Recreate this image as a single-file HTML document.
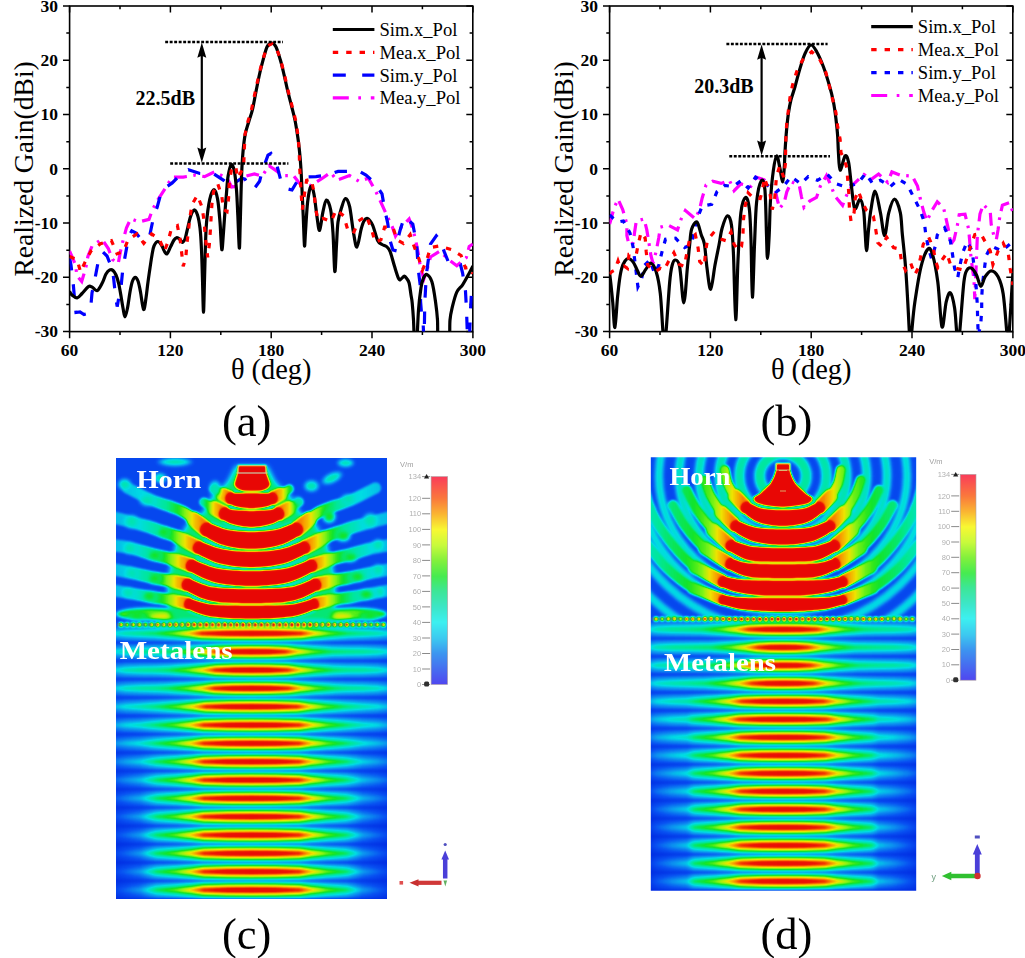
<!DOCTYPE html>
<html><head><meta charset="utf-8"><style>
html,body{margin:0;padding:0;background:#fff;overflow:hidden;}
svg{display:block;font-family:'Liberation Serif', serif;}
</style></head><body>
<svg width="1025" height="958" viewBox="0 0 1025 958">
<defs><clipPath id="ca"><rect x="69.6" y="6" width="403.25" height="325.6"/></clipPath><clipPath id="cb"><rect x="609.6" y="6" width="403.25" height="325.6"/></clipPath></defs>
<rect x="69.6" y="6.0" width="403.2" height="325.6" fill="none" stroke="#000" stroke-width="1.6"/>
<path d="M63 331.6H69.6M472.9 331.6h-6.6" stroke="#000" stroke-width="1.5"/>
<text x="58.1" y="337.4" text-anchor="end" font-size="17.5" font-weight="bold">-30</text>
<path d="M66.3 304.5H69.6M472.9 304.5h-3.3" stroke="#000" stroke-width="1.5"/>
<path d="M63 277.3H69.6M472.9 277.3h-6.6" stroke="#000" stroke-width="1.5"/>
<text x="58.1" y="283.1" text-anchor="end" font-size="17.5" font-weight="bold">-20</text>
<path d="M66.3 250.2H69.6M472.9 250.2h-3.3" stroke="#000" stroke-width="1.5"/>
<path d="M63 223.1H69.6M472.9 223.1h-6.6" stroke="#000" stroke-width="1.5"/>
<text x="58.1" y="228.9" text-anchor="end" font-size="17.5" font-weight="bold">-10</text>
<path d="M66.3 195.9H69.6M472.9 195.9h-3.3" stroke="#000" stroke-width="1.5"/>
<path d="M63 168.8H69.6M472.9 168.8h-6.6" stroke="#000" stroke-width="1.5"/>
<text x="58.1" y="174.6" text-anchor="end" font-size="17.5" font-weight="bold">0</text>
<path d="M66.3 141.7H69.6M472.9 141.7h-3.3" stroke="#000" stroke-width="1.5"/>
<path d="M63 114.5H69.6M472.9 114.5h-6.6" stroke="#000" stroke-width="1.5"/>
<text x="58.1" y="120.3" text-anchor="end" font-size="17.5" font-weight="bold">10</text>
<path d="M66.3 87.4H69.6M472.9 87.4h-3.3" stroke="#000" stroke-width="1.5"/>
<path d="M63 60.3H69.6M472.9 60.3h-6.6" stroke="#000" stroke-width="1.5"/>
<text x="58.1" y="66.1" text-anchor="end" font-size="17.5" font-weight="bold">20</text>
<path d="M66.3 33.1H69.6M472.9 33.1h-3.3" stroke="#000" stroke-width="1.5"/>
<path d="M63 6H69.6M472.9 6h-6.6" stroke="#000" stroke-width="1.5"/>
<text x="58.1" y="11.8" text-anchor="end" font-size="17.5" font-weight="bold">30</text>
<path d="M69.6 331.6v6.6M69.6 6.0v6.6" stroke="#000" stroke-width="1.5"/>
<text x="69.6" y="356.3" text-anchor="middle" font-size="17.5" font-weight="bold">60</text>
<path d="M120 331.6v3.3M120 6.0v3.3" stroke="#000" stroke-width="1.5"/>
<path d="M170.4 331.6v6.6M170.4 6.0v6.6" stroke="#000" stroke-width="1.5"/>
<text x="170.4" y="356.3" text-anchor="middle" font-size="17.5" font-weight="bold">120</text>
<path d="M220.8 331.6v3.3M220.8 6.0v3.3" stroke="#000" stroke-width="1.5"/>
<path d="M271.2 331.6v6.6M271.2 6.0v6.6" stroke="#000" stroke-width="1.5"/>
<text x="271.2" y="356.3" text-anchor="middle" font-size="17.5" font-weight="bold">180</text>
<path d="M321.6 331.6v3.3M321.6 6.0v3.3" stroke="#000" stroke-width="1.5"/>
<path d="M372 331.6v6.6M372 6.0v6.6" stroke="#000" stroke-width="1.5"/>
<text x="372" y="356.3" text-anchor="middle" font-size="17.5" font-weight="bold">240</text>
<path d="M422.4 331.6v3.3M422.4 6.0v3.3" stroke="#000" stroke-width="1.5"/>
<path d="M472.9 331.6v6.6M472.9 6.0v6.6" stroke="#000" stroke-width="1.5"/>
<text x="472.9" y="356.3" text-anchor="middle" font-size="17.5" font-weight="bold">300</text>
<text x="271.2" y="379.3" text-anchor="middle" font-size="28.4">θ (deg)</text>
<text transform="translate(32.5,168.9) rotate(-90)" text-anchor="middle" font-size="27.6">Realized Gain(dBi)</text>
<rect x="609.6" y="6.0" width="403.2" height="325.6" fill="none" stroke="#000" stroke-width="1.6"/>
<path d="M603 331.6H609.6M1012.9 331.6h-6.6" stroke="#000" stroke-width="1.5"/>
<text x="598.1" y="337.4" text-anchor="end" font-size="17.5" font-weight="bold">-30</text>
<path d="M606.3 304.5H609.6M1012.9 304.5h-3.3" stroke="#000" stroke-width="1.5"/>
<path d="M603 277.3H609.6M1012.9 277.3h-6.6" stroke="#000" stroke-width="1.5"/>
<text x="598.1" y="283.1" text-anchor="end" font-size="17.5" font-weight="bold">-20</text>
<path d="M606.3 250.2H609.6M1012.9 250.2h-3.3" stroke="#000" stroke-width="1.5"/>
<path d="M603 223.1H609.6M1012.9 223.1h-6.6" stroke="#000" stroke-width="1.5"/>
<text x="598.1" y="228.9" text-anchor="end" font-size="17.5" font-weight="bold">-10</text>
<path d="M606.3 195.9H609.6M1012.9 195.9h-3.3" stroke="#000" stroke-width="1.5"/>
<path d="M603 168.8H609.6M1012.9 168.8h-6.6" stroke="#000" stroke-width="1.5"/>
<text x="598.1" y="174.6" text-anchor="end" font-size="17.5" font-weight="bold">0</text>
<path d="M606.3 141.7H609.6M1012.9 141.7h-3.3" stroke="#000" stroke-width="1.5"/>
<path d="M603 114.5H609.6M1012.9 114.5h-6.6" stroke="#000" stroke-width="1.5"/>
<text x="598.1" y="120.3" text-anchor="end" font-size="17.5" font-weight="bold">10</text>
<path d="M606.3 87.4H609.6M1012.9 87.4h-3.3" stroke="#000" stroke-width="1.5"/>
<path d="M603 60.3H609.6M1012.9 60.3h-6.6" stroke="#000" stroke-width="1.5"/>
<text x="598.1" y="66.1" text-anchor="end" font-size="17.5" font-weight="bold">20</text>
<path d="M606.3 33.1H609.6M1012.9 33.1h-3.3" stroke="#000" stroke-width="1.5"/>
<path d="M603 6H609.6M1012.9 6h-6.6" stroke="#000" stroke-width="1.5"/>
<text x="598.1" y="11.8" text-anchor="end" font-size="17.5" font-weight="bold">30</text>
<path d="M609.6 331.6v6.6M609.6 6.0v6.6" stroke="#000" stroke-width="1.5"/>
<text x="609.6" y="356.3" text-anchor="middle" font-size="17.5" font-weight="bold">60</text>
<path d="M660 331.6v3.3M660 6.0v3.3" stroke="#000" stroke-width="1.5"/>
<path d="M710.4 331.6v6.6M710.4 6.0v6.6" stroke="#000" stroke-width="1.5"/>
<text x="710.4" y="356.3" text-anchor="middle" font-size="17.5" font-weight="bold">120</text>
<path d="M760.8 331.6v3.3M760.8 6.0v3.3" stroke="#000" stroke-width="1.5"/>
<path d="M811.2 331.6v6.6M811.2 6.0v6.6" stroke="#000" stroke-width="1.5"/>
<text x="811.2" y="356.3" text-anchor="middle" font-size="17.5" font-weight="bold">180</text>
<path d="M861.6 331.6v3.3M861.6 6.0v3.3" stroke="#000" stroke-width="1.5"/>
<path d="M912 331.6v6.6M912 6.0v6.6" stroke="#000" stroke-width="1.5"/>
<text x="912" y="356.3" text-anchor="middle" font-size="17.5" font-weight="bold">240</text>
<path d="M962.4 331.6v3.3M962.4 6.0v3.3" stroke="#000" stroke-width="1.5"/>
<path d="M1012.9 331.6v6.6M1012.9 6.0v6.6" stroke="#000" stroke-width="1.5"/>
<text x="1012.9" y="356.3" text-anchor="middle" font-size="17.5" font-weight="bold">300</text>
<text x="811.2" y="379.3" text-anchor="middle" font-size="28.4">θ (deg)</text>
<text transform="translate(572.5,168.9) rotate(-90)" text-anchor="middle" font-size="27.6">Realized Gain(dBi)</text>
<line x1="332.8" y1="29.5" x2="374.4" y2="29.5" stroke="#000" stroke-width="3.2" fill="none" stroke-linejoin="round"/>
<text x="379.4" y="36.1" font-size="18.6">Sim.x_Pol</text>
<line x1="332.8" y1="52.4" x2="374.4" y2="52.4" stroke="#ff0000" stroke-width="3.2" fill="none" stroke-dasharray="5.4 8"/>
<text x="379.4" y="59" font-size="18.6">Mea.x_Pol</text>
<line x1="332.8" y1="75.2" x2="374.4" y2="75.2" stroke="#0000ff" stroke-width="3.2" fill="none" stroke-dasharray="13 16.4"/>
<text x="379.4" y="81.8" font-size="18.6">Sim.y_Pol</text>
<line x1="332.8" y1="97.8" x2="374.4" y2="97.8" stroke="#ff00ff" stroke-width="3.2" fill="none" stroke-dasharray="16 9.5 2.7 9.8"/>
<text x="379.4" y="104.4" font-size="18.6">Mea.y_Pol</text>
<line x1="871.2" y1="26.6" x2="912.8" y2="26.6" stroke="#000" stroke-width="3.2" fill="none" stroke-linejoin="round"/>
<text x="917.8" y="33.2" font-size="18.6">Sim.x_Pol</text>
<line x1="871.2" y1="49.6" x2="912.8" y2="49.6" stroke="#ff0000" stroke-width="3.2" fill="none" stroke-dasharray="5.4 8"/>
<text x="917.8" y="56.2" font-size="18.6">Mea.x_Pol</text>
<line x1="871.2" y1="72.6" x2="912.8" y2="72.6" stroke="#0000ff" stroke-width="3.2" fill="none" stroke-dasharray="5.4 8"/>
<text x="917.8" y="79.2" font-size="18.6">Sim.y_Pol</text>
<line x1="871.2" y1="95.5" x2="912.8" y2="95.5" stroke="#ff00ff" stroke-width="3.2" fill="none" stroke-dasharray="16 9.5 2.7 9.8"/>
<text x="917.8" y="102.1" font-size="18.6">Mea.y_Pol</text>
<g clip-path="url(#ca)">
<path d="M69.6 251 L75.4 264.7 L77 276 L81.7 281.4 L85.8 267.8 L87.9 256.4 L92.1 245.9 L102 239.1 L108.3 248.5 L112.5 259.5 L118.2 263.7 L120.3 252.2 L122.9 241.2 L126.5 227.7 L130.7 218.8 L139.1 221.9 L149 219.3 L152.6 209.4 L157.6 200.1 L166.5 186.5 L172.2 177.1 L183.2 177.1 L195.2 175.1 L204.6 176.6 L214.5 171.9 L227 178.2 L231.7 187.1 L238.5 186 L245.8 176.1 L254.4 174 L262.2 176.1 L269 165.7 L275.8 170.4 L283.1 175.6 L293.5 175.6 L300.8 185 L309.7 186 L321.7 178.7 L330.6 172.4 L336.9 180.3 L349.6 175.6 L359 181.3 L368.4 178.2 L376.2 192.3 L380.9 202.2 L385.6 212.6 L392.4 227.2 L395.5 236.1 L400.8 227.8 L409.1 218.9 L412.9 229.2 L415.8 240.9 L419.5 259.9 L420.2 267.2 L423.9 278.9 L427.5 268 L430.5 257 L440 251.1 L447.3 258.5 L456.8 265.8 L466.3 257.7 L469.2 246.5 L472.9 244" stroke="#ff00ff" stroke-width="3.2" fill="none" stroke-dasharray="13 6.5 2.6 6.5"/>
<path d="M69.6 258 L71 265 L73.3 284.6 L74.3 296 L76 312.5 L80 312 L84 314.5 L88 313.5 L90.5 310 L92 293 L94.3 282.2 L97.8 263.7 L99.4 255.3 L103 252 L107 256 L110.9 265.8 L113.5 277.2 L115.5 296 L117.2 306.6 L118.7 298.3 L121.1 286.6 L122.9 267.8 L125 256.9 L128.6 236.5 L131.8 230.8 L136 233 L140 238 L143.8 239.7 L149.5 236.5 L153.2 218.8 L155 212.6 L157.1 207.4 L161.8 190.2 L172.2 182.9 L180 175 L188.4 169.8 L199.9 173.5 L207 174 L214 174 L224.4 180.8 L230 186 L236 182 L241.6 178.2 L245 179.2 L249.2 185.5 L254 189 L259.6 181.3 L262.2 170.9 L268 155.2 L271 153.5 L275.8 161 L280.5 179.2 L286.2 188.6 L292 190 L298 180 L303.5 177.1 L316 176.6 L323 175.5 L329.6 174 L338.1 171.4 L350.7 171.4 L359.5 171.4 L366 175 L374.1 182.4 L382 193.8 L385.1 211.6 L387.7 223.1 L390.3 241.3 L392.9 250 L395 250.5 L397.6 239.8 L400.2 229.9 L404.4 216.8 L412.8 224.1 L416.6 243.8 L418.5 271.5 L420.1 284 L420.6 301.8 L421.6 314.3 L423.2 325 L423.8 338 L424.4 325 L424.8 302 L425.3 293.5 L426.3 275 L427.9 263 L430.5 244 L436.3 235.8 L440 240 L444.3 251.9 L448.7 262.8 L454 262 L460.4 264.3 L462.6 273.1 L465.5 291.3 L466.5 310 L467.5 338 L469.5 338 L470.5 310 L471.5 292 L472.9 285" stroke="#0000ff" stroke-width="3.2" fill="none" stroke-dasharray="12.5 14"/>
<path d="M69.6 291.5 C70 292.1 70.7 293.9 72 295 C73.3 296.1 75.5 298.1 77.2 297.8 C78.9 297.6 80.1 295.4 82 293.5 C83.9 291.6 86.7 287.7 88.4 286.6 C90.1 285.5 90.5 286.4 92 287 C93.5 287.6 95.5 291.2 97.2 290.5 C99 289.8 101 285.2 102.5 282.5 C104 279.8 104.8 276.1 106 274 C107.2 271.9 108.6 270.5 109.8 269.9 C111 269.3 112 269.6 113 270.5 C114 271.4 115 272.8 116 275 C117 277.2 117.9 280.2 118.7 283.7 C119.5 287.2 120.3 291.9 121 296 C121.7 300.1 122.3 304.5 123 308 C123.7 311.5 124.2 316.8 125 316.8 C125.8 316.8 126.7 312.1 127.5 308 C128.3 303.9 129.2 296.5 130 292 C130.8 287.5 131.6 283.4 132.5 281 C133.4 278.6 134.4 277.3 135.3 277.3 C136.2 277.3 137.1 278.6 138 281 C138.9 283.4 139.6 287.2 140.5 292 C141.4 296.8 142.7 308.5 143.6 309.5 C144.5 310.5 145.3 302.6 146 298 C146.7 293.4 147.3 287 148 282 C148.7 277 149.3 272.5 150 268 C150.7 263.5 151.3 258.7 152 255 C152.7 251.3 153 248.2 154 246 C155 243.8 156.6 241.5 157.9 241.5 C159.2 241.5 161 244.5 162 246 C163 247.5 163.2 249.2 164 250.5 C164.8 251.8 165.9 254.5 167 253.8 C168.1 253.1 169.5 248.8 170.7 246.5 C171.9 244.2 173 241.5 174 240 C175 238.5 175.9 237.7 176.9 237.6 C177.9 237.5 179.1 238.7 180 239.5 C180.9 240.3 181.7 242.4 182.5 242.3 C183.3 242.2 184.2 240.9 185 239 C185.8 237.1 186.1 234.7 187 231 C187.9 227.3 189.3 220.3 190.5 216.8 C191.7 213.3 192.9 210.3 194.1 210 C195.3 209.7 196.5 212 197.5 215 C198.5 218 199.3 222.2 200 228 C200.7 233.8 201.1 241.3 201.5 250 C201.9 258.7 202.2 269.6 202.5 280 C202.8 290.4 203.2 312.2 203.5 312.2 C203.8 312.2 204.2 290.4 204.5 280 C204.8 269.6 205 259.5 205.3 250 C205.6 240.5 205.8 231.5 206.5 223 C207.2 214.5 208.6 204.7 209.8 199.1 C211.1 193.5 212.7 189.7 214 189.7 C215.3 189.7 216.6 193.7 217.6 199.1 C218.6 204.5 219.3 213.6 220 222 C220.7 230.4 221.2 247.9 221.8 249.6 C222.4 251.3 223 238.2 223.5 232 C224 225.8 224.4 219.1 224.9 212.6 C225.4 206.1 226 199.1 226.5 193 C227 186.9 227.3 180.8 228.1 176.1 C228.9 171.4 230.2 165.5 231.2 164.6 C232.2 163.7 233.4 166.7 234.3 170.9 C235.2 175.1 235.9 182.7 236.5 190 C237.1 197.3 237.3 205.3 237.8 215 C238.3 224.7 238.9 246.3 239.3 248 C239.7 249.7 239.8 237.2 240.2 225 C240.6 212.8 241.1 187.2 241.6 175 C242.1 162.8 242.4 158.7 243 151.9 C243.6 145.1 244.2 139.5 245.2 134.4 C246.2 129.3 247.7 125.4 248.9 121.2 C250.1 117 251.3 114.6 252.5 109.5 C253.7 104.4 255 96.6 256.2 90.5 C257.4 84.4 258.6 78.3 259.8 73 C261 67.7 262.3 62.8 263.5 58.4 C264.7 54 265.8 49.3 267.1 46.7 C268.4 44.1 270 43 271.5 43 C273 43 274.4 43.9 275.9 46.7 C277.4 49.5 278.9 55.2 280.3 59.8 C281.7 64.4 282.8 69.4 284 74.5 C285.2 79.6 286.4 85.4 287.6 90.5 C288.8 95.6 290.1 100.2 291.3 105.1 C292.5 110 293.8 114.4 294.9 119.8 C296 125.2 296.9 131.2 297.8 137.3 C298.7 143.4 299.4 150 300 156.3 C300.6 162.6 300.9 167.7 301.3 175 C301.7 182.3 302.1 192 302.5 200 C302.9 208 303.2 215.4 303.5 223.1 C303.8 230.8 304.2 244.5 304.5 246 C304.8 247.5 305 239.3 305.5 232 C306 224.7 306.7 209.8 307.6 202.2 C308.5 194.6 309.8 187.9 310.8 186.5 C311.9 185.1 312.9 188.8 313.9 193.8 C314.9 198.9 316.1 210.7 317 216.8 C317.9 222.9 318.6 231.1 319.6 230.4 C320.6 229.7 321.7 217.7 322.8 212.6 C323.9 207.5 325.1 200.6 326.4 200.1 C327.7 199.6 329.5 204 330.6 209.5 C331.7 215 332.3 222.7 333 233 C333.7 243.3 334.2 269.5 334.8 271.5 C335.4 273.5 336 253.2 336.5 245 C337 236.8 337.2 228.1 338 222 C338.8 215.9 340.1 212.4 341.3 208.5 C342.5 204.6 344 198.8 345.4 198.5 C346.8 198.2 348.3 200.9 349.6 206.4 C350.9 211.9 352.1 224.6 353.3 231.4 C354.5 238.2 355.6 247.4 356.9 247.1 C358.2 246.8 359.9 233.7 361.1 229.3 C362.3 225 362.9 222.8 364 221 C365.1 219.2 366 217.7 367.4 218.4 C368.8 219.1 370.9 221.5 372.6 225.2 C374.3 228.9 376.2 237.6 377.8 240.8 C379.4 244 380.4 243.4 382 244.5 C383.6 245.6 385.8 245.8 387.2 247.1 C388.6 248.3 389.1 248.8 390.3 252 C391.5 255.2 393.1 261.8 394.5 266.3 C395.9 270.8 397.6 276.7 398.7 278.8 C399.8 280.9 400.1 279.4 401 279 C401.9 278.6 403.4 276.2 404.4 276.2 C405.4 276.2 406.2 277.9 407 279 C407.8 280.1 408.4 280.3 409.1 283 C409.8 285.7 410.5 291.7 411 295 C411.5 298.3 411.8 298.6 412.2 302.8 C412.6 307 413.1 313 413.5 320 C413.9 327 414.1 340.8 414.6 345 C415.1 349.2 416 350.8 416.6 345 C417.2 339.2 417.8 319.6 418.5 310 C419.2 300.4 420.2 293 421 287.7 C421.8 282.4 422.5 280.2 423.5 278 C424.5 275.8 425.4 273.9 426.8 274.5 C428.2 275.1 430.4 277.2 431.9 281.8 C433.4 286.4 434.7 295.9 435.6 302.3 C436.5 308.7 437 312.9 437.5 320 C438 327.1 437 340.8 438.8 345 C440.6 349.2 446.6 349.2 448.5 345 C450.4 340.8 449.4 326.4 450 320 C450.6 313.6 451.3 311.3 452.4 306.7 C453.5 302.1 455.1 295.8 456.8 292.1 C458.5 288.5 460.7 287.7 462.6 284.8 C464.6 281.9 466.8 277.6 468.5 274.5 C470.2 271.4 472.1 267.4 472.9 266" stroke="#000" stroke-width="3.2" fill="none" stroke-linejoin="round"/>
<path d="M69.6 256.4 L73 258 L77 259.5 L80.6 272 L84.8 262.6 L91 251.1 L100.4 243.8 L106 242 L111.4 240.7 L117.1 253.8 L123.4 251.7 L128.1 239.7 L137 233.9 L143.8 243.3 L151.6 233.9 L159.4 239.2 L164.4 251.2 L168 241.8 L171.2 229.3 L177.4 225.7 L180.1 239.2 L181.6 252.2 L183.2 266.3 L185.8 258 L186.8 244.9 L190 216.8 L192.1 204.3 L197.3 195.4 L202 206.9 L204.1 221 L205.1 234.6 L207.7 257.4 L209.3 245 L210.3 231.4 L211.9 204.3 L213.5 191.8 L217.6 183.4 L221.8 195.9 L223.4 209.5 L227 211.6 L228.6 198 L229.1 184.4 L231.2 170.9 L235.4 165.7 L238 178.2 L241 172 L243.7 165.7 L244.2 152.1 L245 134.4 L248 121.2 L251.5 109.5 L255.5 90.5 L259.3 73 L263.2 58.4 L267 46.7 L271.5 43.5 L276 47 L280.6 59.8 L284.4 74.5 L288 90.5 L291.8 105.1 L295.5 119.8 L298.3 137.3 L299.3 155 L299.8 169.8 L300.6 183.4 L301.4 197 L302.4 209.5 L304.5 193.8 L306.6 180.3 L311.3 179.2 L313.9 191.8 L315.5 206.4 L317.5 219.4 L323.3 218.4 L331.1 221.5 L336.3 209.5 L343.6 215.8 L347.5 228.8 L353.3 233.5 L358.5 221 L366.3 215.8 L371.5 229.3 L375.2 242.4 L380.9 239.8 L384.6 227.2 L392.9 227.2 L397.1 239.8 L403.4 243.4 L410.2 234.6 L414 246 L418.8 258.5 L422.4 270.1 L426.8 259.9 L430.5 247.5 L439.2 246 L451.6 249.7 L461.1 255.5 L465.5 268 L469.9 267.2 L472.9 273.8" stroke="#ff0000" stroke-width="3.2" fill="none" stroke-dasharray="5.4 8"/>
</g>
<g clip-path="url(#cb)">
<path d="M609.6 224 L610.2 222 L613.9 208.5 L618 199.1 L622.7 209.5 L626.9 224.1 L626.9 235.6 L629 245 L633.2 242.9 L634.7 231.4 L636.3 221 L644.1 218.9 L646.8 229.9 L648.8 241.9 L650.9 255.4 L653 263.2 L656.1 251.7 L658.8 237.6 L660.3 227.2 L668.2 225.2 L677.5 229.9 L681.2 218.9 L685.4 210.5 L695.3 218.9 L699.5 209.5 L702.2 198 L706 185 L712.7 181.3 L721.1 183.4 L729.4 180.3 L734.1 190.7 L740.9 183.9 L750.8 186.5 L756.1 177.1 L763.9 179.7 L774.9 187.1 L776.9 198 L779.6 208.5 L784.2 202.7 L786.8 191.8 L791.5 181.8 L799.3 185.5 L801.4 196.5 L804 207.4 L809.7 201.1 L816.5 197.5 L820.2 186.5 L826.5 175.6 L831.1 186 L834.8 195.9 L842.6 205.3 L846.8 194.9 L852 185.5 L864 174.5 L870.8 179.7 L878.6 174 L887.7 182.4 L891.9 171.9 L900.3 175.1 L912.3 176.1 L917.5 186 L920.1 198 L923.8 212.1 L926.9 221 L931.6 211.1 L937.3 201.7 L943.6 207.9 L946.2 219.4 L949.3 233.5 L950.4 245 L954 239.8 L957.2 226.2 L959.2 214.7 L965 214.2 L968.6 228.8 L969.6 239.8 L970.5 252.7 L972.2 266.5 L974 280 L974.8 299.2 L976 270 L977.4 235 L980 213.9 L983.4 204.4 L990.3 212.2 L991.2 224.3 L993.8 235.5 L996.3 239.8 L998.1 229.4 L999.8 216.5 L1002.4 205.3 L1009.3 202.7 L1012.9 212" stroke="#ff00ff" stroke-width="3.2" fill="none" stroke-dasharray="13 6.5 2.6 6.5"/>
<path d="M609.6 215 L613.4 218.4 L618 222 L623.3 221 L630 233 L633.2 247.5 L634.7 260 L636.3 273.1 L637.9 286.7 L641.5 279.4 L644.1 265.8 L649.9 260 L654.6 273.6 L658.8 265.3 L661.9 252.2 L665.5 239.2 L670 238.5 L675.5 238.2 L684.6 247.5 L691.6 244.5 L694.2 230.4 L697.5 217.8 L702.2 206 L711.7 204.3 L716.9 191.8 L724.7 185.5 L733.1 186.5 L740.9 180.8 L748.2 188.1 L755.5 177.1 L764.9 183.4 L776.4 191.8 L783.4 186.5 L791 176.6 L800.9 183.9 L808.2 176.6 L817.6 180.3 L827.5 174.5 L836.4 183.9 L846.8 187.1 L858.3 182.9 L865.6 173.5 L872.5 183.4 L880.4 180.3 L890.4 186.5 L898.7 179.2 L907.1 184.4 L913.3 196.5 L919.6 209 L924.3 222 L925.8 234.6 L928.5 248.3 L931.6 259 L935.2 246.5 L937.3 235 L938.4 233.5 L944.6 227.8 L950.4 241 L952.5 254.3 L954.6 268.4 L957.7 277.8 L959.8 266.3 L962.6 253 L967.1 241.8 L972.2 251 L975.7 280.2 L976.5 292.3 L977.4 306.1 L977.6 319 L978.3 336 L980.8 323.3 L981.7 310.4 L981.7 297.5 L982.6 282.8 L984.3 269.9 L986 256.1 L991.2 245.8 L1001.5 251 L1010.1 244.1 L1012.9 240" stroke="#0000ff" stroke-width="3.2" fill="none" stroke-dasharray="5.4 8"/>
<path d="M609.6 273 C609.8 275 610.5 280 611 285 C611.5 290 612.1 295.7 612.8 302.8 C613.4 309.9 614.1 328.3 614.9 327.4 C615.7 326.5 616.7 305.5 617.5 297.6 C618.3 289.7 618.8 284.9 619.5 280 C620.2 275.1 620.8 271.6 621.7 268.4 C622.6 265.2 623.9 262.6 625 261 C626.1 259.4 627.1 258.3 628.5 258.5 C629.9 258.7 631.7 260.1 633.2 262.1 C634.7 264.1 636.1 268.1 637.4 270.5 C638.7 272.9 639.6 276.4 641 276.2 C642.4 276 644.1 271.6 645.7 269.4 C647.4 267.2 649.2 262.8 650.9 263.2 C652.6 263.6 654.5 266.4 656.1 271.5 C657.7 276.6 659.2 283.6 660.3 293.5 C661.4 303.4 662.2 322.4 662.9 331 C663.6 339.6 664 345 664.5 345 C665 345 665.2 341.5 666.1 331 C667 320.5 668.7 292.8 669.7 282 C670.7 271.2 671.1 269.7 672 266 C672.9 262.3 673.6 259.9 674.9 260 C676.2 260.1 678.1 259.2 679.6 266.3 C681.1 273.4 682.5 302.8 683.8 302.8 C685.1 302.8 686.5 275.9 687.5 266.3 C688.5 256.7 688.9 251.6 689.6 245.4 C690.3 239.2 690.4 233.2 691.6 229.3 C692.8 225.4 695.3 221.1 696.9 222 C698.5 222.9 700 231.3 701.3 235 C702.5 238.7 703.4 238.5 704.4 244 C705.4 249.5 706 260.4 707 268 C708 275.6 709.4 289.8 710.7 289.3 C712 288.8 713.6 272.4 715 265 C716.4 257.6 717.8 251.1 719 245 C720.2 238.9 720.7 233.2 722.1 228.3 C723.5 223.4 725.8 216.3 727.4 215.8 C729 215.3 730.5 218.7 731.5 225.2 C732.5 231.7 732.8 239.3 733.5 255 C734.2 270.7 735 318.8 735.7 319.6 C736.5 320.4 737.1 277.8 738 260 C738.9 242.2 739.6 223 740.9 212.6 C742.2 202.2 744.2 198.2 745.6 197.5 C747 196.8 748.4 201.4 749.3 208.5 C750.2 215.6 750.5 225.2 751 240 C751.5 254.8 751.8 296.3 752.4 297.1 C753 297.9 753.8 260.8 754.5 245 C755.2 229.2 755.5 212.9 756.6 202.2 C757.7 191.5 759.9 182.9 761.3 180.8 C762.7 178.7 764 180.7 764.9 189.7 C765.8 198.7 766.1 223.5 766.5 235 C766.9 246.5 767 258.5 767.5 258.5 C768 258.5 768.7 244.8 769.2 235 C769.7 225.2 769.8 210.7 770.5 200 C771.2 189.3 772.3 178.2 773.3 170.9 C774.3 163.6 775.6 156.4 776.7 156 C777.8 155.6 779 164.3 780 168.6 C781 172.9 781.8 181.9 782.5 181.9 C783.2 181.9 783.8 173.6 784.2 168.6 C784.6 163.6 784.6 158.6 785 151.9 C785.4 145.2 786.1 134.9 786.7 128.5 C787.3 122.1 787.7 118.2 788.4 113.5 C789.1 108.8 789.8 104.5 790.9 100.1 C792 95.6 793.5 92.1 795 86.8 C796.5 81.5 798.3 74 800 68.4 C801.7 62.8 803.3 57.3 805.1 53.4 C806.9 49.5 809 45.3 810.9 45 C812.8 44.7 814.6 48.1 816.7 51.7 C818.8 55.3 821.3 61.1 823.4 66.7 C825.5 72.3 827.6 79.2 829.3 85.1 C831 90.9 832.3 96.2 833.4 101.8 C834.5 107.4 835.2 112.9 835.9 118.5 C836.6 124.1 837.2 129.6 837.6 135.2 C838 140.8 838 146.1 838.4 151.9 C838.8 157.7 839 169.5 840.1 170.2 C841.2 170.9 843.7 157.4 845.1 156 C846.5 154.6 847.5 157.6 848.5 161.9 C849.5 166.2 850 174.1 851 181.9 C852 189.7 853.1 205.6 854.6 208.5 C856.1 211.4 858.4 198.9 859.9 199.1 C861.4 199.3 862.6 204.3 863.5 209.5 C864.4 214.7 864.5 223.1 865 230 C865.5 236.9 866 250.7 866.6 250.7 C867.2 250.7 867.8 236.7 868.5 230 C869.2 223.3 869.7 217 870.8 210.5 C871.9 204 873.6 190.8 875.2 191.2 C876.8 191.5 878.8 205.2 880.4 212.6 C882 220 883.2 235.6 884.6 235.6 C886 235.6 887.1 218.7 888.8 212.6 C890.4 206.5 892.6 199.1 894.5 199.1 C896.4 199.1 899 206.6 900.3 212.6 C901.6 218.6 901.5 226.1 902.4 235 C903.3 243.9 904.5 254.1 905.5 266.3 C906.5 278.5 907.5 297.3 908.1 308.1 C908.7 318.9 908.9 324.9 909.3 331 C909.7 337.1 910.1 345 910.5 345 C910.9 345 911.1 338.2 911.8 331 C912.5 323.8 913.3 312.6 914.9 301.8 C916.5 291 918.9 275.1 921.1 266.3 C923.3 257.5 926 251 927.9 249.1 C929.8 247.2 931 249.3 932.6 254.8 C934.2 260.3 936.2 270 937.8 282 C939.4 294 940.6 323.6 942 326.9 C943.4 330.2 944.8 307.5 946.2 301.8 C947.6 296.1 949 291.8 950.4 292.9 C951.8 293.9 953.6 301.8 954.6 308.1 C955.6 314.5 956 324.9 956.6 331 C957.2 337.1 957.7 345 958.2 345 C958.7 345 958.8 341.5 959.8 331 C960.8 320.5 962.7 292.2 963.9 282 C965.1 271.8 965.8 272.3 967 270 C968.2 267.7 969.8 267.3 971.4 268.2 C973 269.1 974.9 272.1 976.5 275.1 C978.1 278.1 979.4 286 980.8 286.3 C982.2 286.6 983.4 279.4 985.1 276.8 C986.8 274.2 989 270.8 991.2 270.8 C993.4 270.8 996.1 272.9 998.1 276.8 C1000.1 280.7 1001.8 285 1003.2 294 C1004.6 303 1005.9 322.5 1006.7 331 C1007.5 339.5 1007.6 345 1008 345 C1008.4 345 1008.7 340.1 1009.3 331 C1009.9 321.9 1011.2 300.3 1011.8 290.6 C1012.4 280.9 1012.7 275.9 1012.9 273" stroke="#000" stroke-width="3.2" fill="none" stroke-linejoin="round"/>
<path d="M609.6 274 L612 271.5 L615 270 L618 261 L620.1 267.4 L624 266 L627.4 268.4 L629 254.3 L633 254 L636.3 254.3 L637.9 246 L641 232.5 L645.2 238.2 L646.2 251.7 L647.8 265.3 L651 268 L655.6 271.5 L660.3 268.4 L664 270 L668.7 261.1 L673.9 252.7 L679.1 264.2 L684.3 266.3 L686.9 252.7 L689.6 239.2 L695.3 234.6 L698.1 248 L699.7 261.6 L704.4 266.3 L705.4 252.7 L707.5 239.8 L713.3 233 L719.5 238.7 L726.3 240.8 L731 232 L734.1 244.4 L738.3 250.1 L741.5 246.5 L743 233.5 L743.5 219.4 L745.1 206.4 L748.2 192.8 L753.5 198 L760.2 198.5 L762.3 190.7 L764.4 177.7 L770.2 194.9 L772.2 209.5 L774.3 202.2 L775.4 190.7 L776.4 177.1 L779.6 166.2 L783.7 177.1 L785.3 164.6 L785.9 138.5 L786.7 123.5 L788.4 110.1 L790 97.6 L792.5 85.1 L796.7 71.7 L802.6 60 L811.7 51.7 L820.1 60 L825.9 72.6 L829.3 85.9 L832.6 99.3 L835.9 112.6 L837.6 126 L840.1 139.3 L841 152.7 L843.7 157.8 L846.8 167.7 L847.8 180.8 L848.9 194.9 L849.4 208.5 L851 221 L854.1 212.6 L855.2 198.5 L858.3 190.7 L862.5 202.7 L866.6 210.5 L873.4 216.3 L875.7 229.3 L877.8 242.6 L882 246.6 L886.7 237.2 L893.5 247.6 L899.7 249.2 L901.3 260.1 L905.5 270.5 L910.7 263.2 L914.9 274.7 L918 268.4 L920.6 257.4 L923.2 244.4 L928.5 236.6 L933.2 248 L935.8 261.6 L937.8 267.4 L942 260.1 L946.7 253.3 L950.4 264.2 L955.1 267.9 L962.9 270 L966.6 259 L970.5 246.6 L974.8 234.6 L980.8 233.7 L986.9 244.9 L990.3 251 L992.9 264.7 L998.1 251 L1003.2 243.2 L1008.4 254.4 L1010.1 268.2 L1012.9 285" stroke="#ff0000" stroke-width="3.2" fill="none" stroke-dasharray="5.4 8"/>
</g>
<path d="M165.2 41.9H283M170.2 163.4H288.4" stroke="#000" stroke-width="2.5" stroke-dasharray="2.9 1.6"/>
<path d="M201.8 49.9V155.4" stroke="#000" stroke-width="2.2"/>
<path d="M201.8 42.5L206.3 57.7L201.8 55.7L197.3 57.7Z" fill="#000"/>
<path d="M201.8 162.8L206.3 147.6L201.8 149.6L197.3 147.6Z" fill="#000"/>
<text x="135.6" y="104.6" font-size="20" font-weight="bold">22.5dB</text>
<path d="M726.4 44H827.6M729.3 156.2H830" stroke="#000" stroke-width="2.5" stroke-dasharray="2.9 1.6"/>
<path d="M761.6 52V148.2" stroke="#000" stroke-width="2.2"/>
<path d="M761.6 44.6L766.1 59.8L761.6 57.8L757.1 59.8Z" fill="#000"/>
<path d="M761.6 155.6L766.1 140.4L761.6 142.4L757.1 140.4Z" fill="#000"/>
<text x="694.2" y="92.9" font-size="20" font-weight="bold">20.3dB</text>
<defs>
<filter id="cmc" filterUnits="userSpaceOnUse" x="116" y="458.6" width="271" height="439.8" color-interpolation-filters="sRGB"><feGaussianBlur stdDeviation="0.9"/><feComponentTransfer><feFuncR type="table" tableValues="0 0 0 0 0 0.002 0.009 0.017 0.025 0.032 0.036 0.04 0.044 0.044 0.029 0.015 0 0 0 0 0.02 0.044 0.069 0.179 0.347 0.515 0.659 0.796 0.933 0.948 0.963 0.977 0.975 0.968 0.961 0.943 0.925 0.922 0.918 0.914 0.91"/><feFuncG type="table" tableValues="0.063 0.082 0.102 0.122 0.141 0.165 0.204 0.243 0.282 0.327 0.396 0.465 0.533 0.605 0.691 0.777 0.863 0.877 0.892 0.907 0.906 0.901 0.896 0.908 0.932 0.956 0.942 0.918 0.894 0.799 0.703 0.607 0.499 0.387 0.275 0.18 0.086 0.073 0.059 0.045 0.031"/><feFuncB type="table" tableValues="0.745 0.774 0.802 0.831 0.859 0.886 0.902 0.919 0.936 0.949 0.947 0.945 0.943 0.938 0.924 0.909 0.894 0.799 0.703 0.607 0.471 0.324 0.176 0.109 0.095 0.081 0.056 0.028 0 0 0 0 0 0 0 0.01 0.02 0.02 0.02 0.02 0.02"/></feComponentTransfer></filter>
<filter id="blc" x="-20%" y="-20%" width="140%" height="140%"><feGaussianBlur stdDeviation="1.5"/></filter>
<clipPath id="clc"><rect x="116" y="458.6" width="271" height="439.8"/></clipPath>
<clipPath id="upc"><rect x="111" y="453.6" width="281" height="170.39999999999998"/></clipPath>
<linearGradient id="tgc" gradientUnits="userSpaceOnUse" x1="116" y1="0" x2="387" y2="0"><stop offset="-0.0166" stop-color="#666666"/><stop offset="0.0756" stop-color="#737373"/><stop offset="0.1494" stop-color="#858585"/><stop offset="0.2232" stop-color="#999999"/><stop offset="0.2786" stop-color="#b2b2b2"/><stop offset="0.3339" stop-color="#c2c2c2"/><stop offset="0.5000" stop-color="#c7c7c7"/><stop offset="0.6661" stop-color="#c2c2c2"/><stop offset="0.7214" stop-color="#b2b2b2"/><stop offset="0.7768" stop-color="#999999"/><stop offset="0.8506" stop-color="#858585"/><stop offset="0.9244" stop-color="#737373"/><stop offset="1.0166" stop-color="#666666"/></linearGradient>
<radialGradient id="sgc"><stop offset="0" stop-color="#ffffff"/><stop offset="0.40" stop-color="#e6e6e6"/><stop offset="0.50" stop-color="#b8b8b8"/><stop offset="0.63" stop-color="#949494"/><stop offset="0.78" stop-color="#757575"/><stop offset="0.9" stop-color="#666666" stop-opacity="0.6"/><stop offset="1" stop-color="#5c5c5c" stop-opacity="0"/></radialGradient>
<radialGradient id="bcc"><stop offset="0" stop-color="#787878"/><stop offset="0.6" stop-color="#6e6e6e"/><stop offset="1" stop-color="#616161" stop-opacity="0"/></radialGradient>
<radialGradient id="bgrc"><stop offset="0" stop-color="#949494"/><stop offset="0.6" stop-color="#858585"/><stop offset="1" stop-color="#6b6b6b" stop-opacity="0"/></radialGradient>
<radialGradient id="bgc"><stop offset="0" stop-color="#8c8c8c"/><stop offset="0.5" stop-color="#757575"/><stop offset="0.8" stop-color="#666666" stop-opacity="0.8"/><stop offset="1" stop-color="#4c4c4c" stop-opacity="0"/></radialGradient>
<linearGradient id="edc" gradientUnits="userSpaceOnUse" x1="116" y1="0" x2="387" y2="0"><stop offset="0" stop-color="#0f0f0f" stop-opacity="0.55"/><stop offset="0.148" stop-color="#0f0f0f" stop-opacity="0"/><stop offset="0.852" stop-color="#0f0f0f" stop-opacity="0"/><stop offset="1" stop-color="#0f0f0f" stop-opacity="0.55"/></linearGradient>
<linearGradient id="mpc" x1="0" y1="0" x2="0" y2="1"><stop offset="0.000" stop-color="#fff" stop-opacity="0.12"/><stop offset="0.020" stop-color="#fff" stop-opacity="0.2"/><stop offset="0.063" stop-color="#fff" stop-opacity="0.34"/><stop offset="0.160" stop-color="#fff" stop-opacity="0.5"/><stop offset="0.270" stop-color="#fff" stop-opacity="0.66"/><stop offset="0.336" stop-color="#fff" stop-opacity="0.75"/><stop offset="0.375" stop-color="#fff" stop-opacity="0.864"/><stop offset="0.440" stop-color="#fff" stop-opacity="0.97"/><stop offset="0.500" stop-color="#fff" stop-opacity="1"/><stop offset="0.560" stop-color="#fff" stop-opacity="0.97"/><stop offset="0.625" stop-color="#fff" stop-opacity="0.864"/><stop offset="0.664" stop-color="#fff" stop-opacity="0.75"/><stop offset="0.730" stop-color="#fff" stop-opacity="0.66"/><stop offset="0.840" stop-color="#fff" stop-opacity="0.5"/><stop offset="0.937" stop-color="#fff" stop-opacity="0.34"/><stop offset="0.980" stop-color="#fff" stop-opacity="0.2"/><stop offset="1.000" stop-color="#fff" stop-opacity="0.12"/></linearGradient>
<pattern id="mptc" patternUnits="userSpaceOnUse" x="0" y="624.24" width="2000" height="18.33"><rect width="2000" height="18.33" fill="url(#mpc)"/></pattern>
<mask id="mkc" mask-type="alpha" maskUnits="userSpaceOnUse" x="111" y="624" width="281" height="279.4000000000001"><rect x="111" y="624" width="281" height="279.4000000000001" fill="url(#mptc)"/></mask>
<linearGradient id="evc0" gradientUnits="userSpaceOnUse" x1="116" y1="0" x2="387" y2="0"><stop offset="-0.0018" stop-color="#696969"/><stop offset="0.0351" stop-color="#757575"/><stop offset="0.0904" stop-color="#7d7d7d"/><stop offset="0.1421" stop-color="#858585"/><stop offset="0.2159" stop-color="#9e9e9e"/><stop offset="0.2712" stop-color="#bdbdbd"/><stop offset="0.3155" stop-color="#e6e6e6"/><stop offset="0.4077" stop-color="#fafafa"/><stop offset="0.5000" stop-color="#ffffff"/><stop offset="0.5923" stop-color="#fafafa"/><stop offset="0.6845" stop-color="#e6e6e6"/><stop offset="0.7288" stop-color="#bdbdbd"/><stop offset="0.7841" stop-color="#9e9e9e"/><stop offset="0.8579" stop-color="#858585"/><stop offset="0.9096" stop-color="#7d7d7d"/><stop offset="0.9649" stop-color="#757575"/><stop offset="1.0018" stop-color="#696969"/></linearGradient>
<linearGradient id="evc1" gradientUnits="userSpaceOnUse" x1="116" y1="0" x2="387" y2="0"><stop offset="-0.0018" stop-color="#696969"/><stop offset="0.0351" stop-color="#757575"/><stop offset="0.0904" stop-color="#7d7d7d"/><stop offset="0.1458" stop-color="#808080"/><stop offset="0.2011" stop-color="#858585"/><stop offset="0.2749" stop-color="#9e9e9e"/><stop offset="0.3303" stop-color="#bdbdbd"/><stop offset="0.3745" stop-color="#e6e6e6"/><stop offset="0.4373" stop-color="#fafafa"/><stop offset="0.5000" stop-color="#ffffff"/><stop offset="0.5627" stop-color="#fafafa"/><stop offset="0.6255" stop-color="#e6e6e6"/><stop offset="0.6697" stop-color="#bdbdbd"/><stop offset="0.7251" stop-color="#9e9e9e"/><stop offset="0.7989" stop-color="#858585"/><stop offset="0.8542" stop-color="#808080"/><stop offset="0.9096" stop-color="#7d7d7d"/><stop offset="0.9649" stop-color="#757575"/><stop offset="1.0018" stop-color="#696969"/></linearGradient>
<linearGradient id="evc2" gradientUnits="userSpaceOnUse" x1="116" y1="0" x2="387" y2="0"><stop offset="-0.0018" stop-color="#666666"/><stop offset="0.0351" stop-color="#737373"/><stop offset="0.0904" stop-color="#7b7b7b"/><stop offset="0.1458" stop-color="#7e7e7e"/><stop offset="0.1937" stop-color="#858585"/><stop offset="0.2675" stop-color="#9e9e9e"/><stop offset="0.3229" stop-color="#bdbdbd"/><stop offset="0.3672" stop-color="#e6e6e6"/><stop offset="0.4336" stop-color="#fafafa"/><stop offset="0.5000" stop-color="#ffffff"/><stop offset="0.5664" stop-color="#fafafa"/><stop offset="0.6328" stop-color="#e6e6e6"/><stop offset="0.6771" stop-color="#bdbdbd"/><stop offset="0.7325" stop-color="#9e9e9e"/><stop offset="0.8063" stop-color="#858585"/><stop offset="0.8542" stop-color="#7e7e7e"/><stop offset="0.9096" stop-color="#7b7b7b"/><stop offset="0.9649" stop-color="#737373"/><stop offset="1.0018" stop-color="#666666"/></linearGradient>
<linearGradient id="evc3" gradientUnits="userSpaceOnUse" x1="116" y1="0" x2="387" y2="0"><stop offset="-0.0018" stop-color="#636363"/><stop offset="0.0351" stop-color="#707070"/><stop offset="0.0904" stop-color="#797979"/><stop offset="0.1458" stop-color="#7d7d7d"/><stop offset="0.1900" stop-color="#858585"/><stop offset="0.2638" stop-color="#9e9e9e"/><stop offset="0.3192" stop-color="#bdbdbd"/><stop offset="0.3635" stop-color="#e6e6e6"/><stop offset="0.4317" stop-color="#fafafa"/><stop offset="0.5000" stop-color="#ffffff"/><stop offset="0.5683" stop-color="#fafafa"/><stop offset="0.6365" stop-color="#e6e6e6"/><stop offset="0.6808" stop-color="#bdbdbd"/><stop offset="0.7362" stop-color="#9e9e9e"/><stop offset="0.8100" stop-color="#858585"/><stop offset="0.8542" stop-color="#7d7d7d"/><stop offset="0.9096" stop-color="#797979"/><stop offset="0.9649" stop-color="#707070"/><stop offset="1.0018" stop-color="#636363"/></linearGradient>
<linearGradient id="evc4" gradientUnits="userSpaceOnUse" x1="116" y1="0" x2="387" y2="0"><stop offset="-0.0018" stop-color="#5e5e5e"/><stop offset="0.0351" stop-color="#6b6b6b"/><stop offset="0.0904" stop-color="#757575"/><stop offset="0.1568" stop-color="#858585"/><stop offset="0.2306" stop-color="#9e9e9e"/><stop offset="0.2860" stop-color="#bdbdbd"/><stop offset="0.3303" stop-color="#e6e6e6"/><stop offset="0.4151" stop-color="#fafafa"/><stop offset="0.5000" stop-color="#ffffff"/><stop offset="0.5849" stop-color="#fafafa"/><stop offset="0.6697" stop-color="#e6e6e6"/><stop offset="0.7140" stop-color="#bdbdbd"/><stop offset="0.7694" stop-color="#9e9e9e"/><stop offset="0.8432" stop-color="#858585"/><stop offset="0.9096" stop-color="#757575"/><stop offset="0.9649" stop-color="#6b6b6b"/><stop offset="1.0018" stop-color="#5e5e5e"/></linearGradient>
<linearGradient id="evc5" gradientUnits="userSpaceOnUse" x1="116" y1="0" x2="387" y2="0"><stop offset="-0.0018" stop-color="#595959"/><stop offset="0.0351" stop-color="#666666"/><stop offset="0.0904" stop-color="#717171"/><stop offset="0.1494" stop-color="#858585"/><stop offset="0.2232" stop-color="#9e9e9e"/><stop offset="0.2786" stop-color="#bdbdbd"/><stop offset="0.3229" stop-color="#e6e6e6"/><stop offset="0.4114" stop-color="#fafafa"/><stop offset="0.5000" stop-color="#ffffff"/><stop offset="0.5886" stop-color="#fafafa"/><stop offset="0.6771" stop-color="#e6e6e6"/><stop offset="0.7214" stop-color="#bdbdbd"/><stop offset="0.7768" stop-color="#9e9e9e"/><stop offset="0.8506" stop-color="#858585"/><stop offset="0.9096" stop-color="#717171"/><stop offset="0.9649" stop-color="#666666"/><stop offset="1.0018" stop-color="#595959"/></linearGradient>
<linearGradient id="evc6" gradientUnits="userSpaceOnUse" x1="116" y1="0" x2="387" y2="0"><stop offset="-0.0018" stop-color="#525252"/><stop offset="0.0351" stop-color="#5e5e5e"/><stop offset="0.0904" stop-color="#6c6c6c"/><stop offset="0.1494" stop-color="#858585"/><stop offset="0.2232" stop-color="#9e9e9e"/><stop offset="0.2786" stop-color="#bdbdbd"/><stop offset="0.3229" stop-color="#e6e6e6"/><stop offset="0.4114" stop-color="#fafafa"/><stop offset="0.5000" stop-color="#ffffff"/><stop offset="0.5886" stop-color="#fafafa"/><stop offset="0.6771" stop-color="#e6e6e6"/><stop offset="0.7214" stop-color="#bdbdbd"/><stop offset="0.7768" stop-color="#9e9e9e"/><stop offset="0.8506" stop-color="#858585"/><stop offset="0.9096" stop-color="#6c6c6c"/><stop offset="0.9649" stop-color="#5e5e5e"/><stop offset="1.0018" stop-color="#525252"/></linearGradient>
<linearGradient id="evc7" gradientUnits="userSpaceOnUse" x1="116" y1="0" x2="387" y2="0"><stop offset="-0.0018" stop-color="#4a4a4a"/><stop offset="0.0351" stop-color="#575757"/><stop offset="0.0904" stop-color="#666666"/><stop offset="0.1494" stop-color="#858585"/><stop offset="0.2232" stop-color="#9e9e9e"/><stop offset="0.2786" stop-color="#bdbdbd"/><stop offset="0.3229" stop-color="#e6e6e6"/><stop offset="0.4114" stop-color="#fafafa"/><stop offset="0.5000" stop-color="#ffffff"/><stop offset="0.5886" stop-color="#fafafa"/><stop offset="0.6771" stop-color="#e6e6e6"/><stop offset="0.7214" stop-color="#bdbdbd"/><stop offset="0.7768" stop-color="#9e9e9e"/><stop offset="0.8506" stop-color="#858585"/><stop offset="0.9096" stop-color="#666666"/><stop offset="0.9649" stop-color="#575757"/><stop offset="1.0018" stop-color="#4a4a4a"/></linearGradient>
<linearGradient id="evc8" gradientUnits="userSpaceOnUse" x1="116" y1="0" x2="387" y2="0"><stop offset="-0.0018" stop-color="#424242"/><stop offset="0.0351" stop-color="#4f4f4f"/><stop offset="0.0904" stop-color="#606060"/><stop offset="0.1494" stop-color="#858585"/><stop offset="0.2232" stop-color="#9e9e9e"/><stop offset="0.2786" stop-color="#bdbdbd"/><stop offset="0.3229" stop-color="#e6e6e6"/><stop offset="0.4114" stop-color="#fafafa"/><stop offset="0.5000" stop-color="#ffffff"/><stop offset="0.5886" stop-color="#fafafa"/><stop offset="0.6771" stop-color="#e6e6e6"/><stop offset="0.7214" stop-color="#bdbdbd"/><stop offset="0.7768" stop-color="#9e9e9e"/><stop offset="0.8506" stop-color="#858585"/><stop offset="0.9096" stop-color="#606060"/><stop offset="0.9649" stop-color="#4f4f4f"/><stop offset="1.0018" stop-color="#424242"/></linearGradient>
<linearGradient id="evc9" gradientUnits="userSpaceOnUse" x1="116" y1="0" x2="387" y2="0"><stop offset="-0.0018" stop-color="#3d3d3d"/><stop offset="0.0351" stop-color="#4a4a4a"/><stop offset="0.0904" stop-color="#5c5c5c"/><stop offset="0.1494" stop-color="#858585"/><stop offset="0.2232" stop-color="#9e9e9e"/><stop offset="0.2786" stop-color="#bdbdbd"/><stop offset="0.3229" stop-color="#e6e6e6"/><stop offset="0.4114" stop-color="#fafafa"/><stop offset="0.5000" stop-color="#ffffff"/><stop offset="0.5886" stop-color="#fafafa"/><stop offset="0.6771" stop-color="#e6e6e6"/><stop offset="0.7214" stop-color="#bdbdbd"/><stop offset="0.7768" stop-color="#9e9e9e"/><stop offset="0.8506" stop-color="#858585"/><stop offset="0.9096" stop-color="#5c5c5c"/><stop offset="0.9649" stop-color="#4a4a4a"/><stop offset="1.0018" stop-color="#3d3d3d"/></linearGradient>
<linearGradient id="evc10" gradientUnits="userSpaceOnUse" x1="116" y1="0" x2="387" y2="0"><stop offset="-0.0018" stop-color="#383838"/><stop offset="0.0351" stop-color="#454545"/><stop offset="0.0904" stop-color="#595959"/><stop offset="0.1494" stop-color="#858585"/><stop offset="0.2232" stop-color="#9e9e9e"/><stop offset="0.2786" stop-color="#bdbdbd"/><stop offset="0.3229" stop-color="#e6e6e6"/><stop offset="0.4114" stop-color="#fafafa"/><stop offset="0.5000" stop-color="#ffffff"/><stop offset="0.5886" stop-color="#fafafa"/><stop offset="0.6771" stop-color="#e6e6e6"/><stop offset="0.7214" stop-color="#bdbdbd"/><stop offset="0.7768" stop-color="#9e9e9e"/><stop offset="0.8506" stop-color="#858585"/><stop offset="0.9096" stop-color="#595959"/><stop offset="0.9649" stop-color="#454545"/><stop offset="1.0018" stop-color="#383838"/></linearGradient>
<linearGradient id="evc11" gradientUnits="userSpaceOnUse" x1="116" y1="0" x2="387" y2="0"><stop offset="-0.0018" stop-color="#363636"/><stop offset="0.0351" stop-color="#424242"/><stop offset="0.0904" stop-color="#575757"/><stop offset="0.1494" stop-color="#858585"/><stop offset="0.2232" stop-color="#9e9e9e"/><stop offset="0.2786" stop-color="#bdbdbd"/><stop offset="0.3229" stop-color="#e6e6e6"/><stop offset="0.4114" stop-color="#fafafa"/><stop offset="0.5000" stop-color="#ffffff"/><stop offset="0.5886" stop-color="#fafafa"/><stop offset="0.6771" stop-color="#e6e6e6"/><stop offset="0.7214" stop-color="#bdbdbd"/><stop offset="0.7768" stop-color="#9e9e9e"/><stop offset="0.8506" stop-color="#858585"/><stop offset="0.9096" stop-color="#575757"/><stop offset="0.9649" stop-color="#424242"/><stop offset="1.0018" stop-color="#363636"/></linearGradient>
<linearGradient id="evc12" gradientUnits="userSpaceOnUse" x1="116" y1="0" x2="387" y2="0"><stop offset="-0.0018" stop-color="#333333"/><stop offset="0.0351" stop-color="#404040"/><stop offset="0.0904" stop-color="#555555"/><stop offset="0.1494" stop-color="#858585"/><stop offset="0.2232" stop-color="#9e9e9e"/><stop offset="0.2786" stop-color="#bdbdbd"/><stop offset="0.3229" stop-color="#e6e6e6"/><stop offset="0.4114" stop-color="#fafafa"/><stop offset="0.5000" stop-color="#ffffff"/><stop offset="0.5886" stop-color="#fafafa"/><stop offset="0.6771" stop-color="#e6e6e6"/><stop offset="0.7214" stop-color="#bdbdbd"/><stop offset="0.7768" stop-color="#9e9e9e"/><stop offset="0.8506" stop-color="#858585"/><stop offset="0.9096" stop-color="#555555"/><stop offset="0.9649" stop-color="#404040"/><stop offset="1.0018" stop-color="#333333"/></linearGradient>
<linearGradient id="evc13" gradientUnits="userSpaceOnUse" x1="116" y1="0" x2="387" y2="0"><stop offset="-0.0018" stop-color="#333333"/><stop offset="0.0351" stop-color="#404040"/><stop offset="0.0904" stop-color="#555555"/><stop offset="0.1494" stop-color="#858585"/><stop offset="0.2232" stop-color="#9e9e9e"/><stop offset="0.2786" stop-color="#bdbdbd"/><stop offset="0.3229" stop-color="#e6e6e6"/><stop offset="0.4114" stop-color="#fafafa"/><stop offset="0.5000" stop-color="#ffffff"/><stop offset="0.5886" stop-color="#fafafa"/><stop offset="0.6771" stop-color="#e6e6e6"/><stop offset="0.7214" stop-color="#bdbdbd"/><stop offset="0.7768" stop-color="#9e9e9e"/><stop offset="0.8506" stop-color="#858585"/><stop offset="0.9096" stop-color="#555555"/><stop offset="0.9649" stop-color="#404040"/><stop offset="1.0018" stop-color="#333333"/></linearGradient>
<linearGradient id="evc14" gradientUnits="userSpaceOnUse" x1="116" y1="0" x2="387" y2="0"><stop offset="-0.0018" stop-color="#333333"/><stop offset="0.0351" stop-color="#404040"/><stop offset="0.0904" stop-color="#555555"/><stop offset="0.1494" stop-color="#858585"/><stop offset="0.2232" stop-color="#9e9e9e"/><stop offset="0.2786" stop-color="#bdbdbd"/><stop offset="0.3229" stop-color="#e6e6e6"/><stop offset="0.4114" stop-color="#fafafa"/><stop offset="0.5000" stop-color="#ffffff"/><stop offset="0.5886" stop-color="#fafafa"/><stop offset="0.6771" stop-color="#e6e6e6"/><stop offset="0.7214" stop-color="#bdbdbd"/><stop offset="0.7768" stop-color="#9e9e9e"/><stop offset="0.8506" stop-color="#858585"/><stop offset="0.9096" stop-color="#555555"/><stop offset="0.9649" stop-color="#404040"/><stop offset="1.0018" stop-color="#333333"/></linearGradient>
</defs>
<g clip-path="url(#clc)"><g filter="url(#cmc)">
<rect x="111" y="453.6" width="281" height="449.8" fill="#333333"/>
<rect x="111" y="624" width="281" height="279.4000000000001" fill="#1f1f1f"/>
<g mask="url(#mkc)">
<rect x="111" y="624.00" width="281" height="18.56" fill="url(#evc0)"/>
<rect x="111" y="642.57" width="281" height="18.33" fill="url(#evc1)"/>
<rect x="111" y="660.89" width="281" height="18.33" fill="url(#evc2)"/>
<rect x="111" y="679.23" width="281" height="18.33" fill="url(#evc3)"/>
<rect x="111" y="697.56" width="281" height="18.33" fill="url(#evc4)"/>
<rect x="111" y="715.88" width="281" height="18.33" fill="url(#evc5)"/>
<rect x="111" y="734.22" width="281" height="18.33" fill="url(#evc6)"/>
<rect x="111" y="752.55" width="281" height="18.33" fill="url(#evc7)"/>
<rect x="111" y="770.88" width="281" height="18.33" fill="url(#evc8)"/>
<rect x="111" y="789.20" width="281" height="18.33" fill="url(#evc9)"/>
<rect x="111" y="807.53" width="281" height="18.33" fill="url(#evc10)"/>
<rect x="111" y="825.87" width="281" height="18.33" fill="url(#evc11)"/>
<rect x="111" y="844.19" width="281" height="18.33" fill="url(#evc12)"/>
<rect x="111" y="862.52" width="281" height="18.33" fill="url(#evc13)"/>
<rect x="111" y="880.86" width="281" height="18.33" fill="url(#evc14)"/>
</g>
<g clip-path="url(#upc)"><g filter="url(#blc)">
<ellipse cx="150" cy="614" rx="34" ry="6" fill="#999999"/>
<ellipse cx="353" cy="614" rx="34" ry="6" fill="#999999"/>
<ellipse cx="165" cy="617" rx="14" ry="3.5" fill="#b2b2b2"/>
<ellipse cx="338" cy="617" rx="14" ry="3.5" fill="#b2b2b2"/>
</g>
<filter id="fbc" x="-20%" y="-20%" width="140%" height="140%"><feGaussianBlur stdDeviation="2.5"/></filter>
<path d="M235.5 466 L227.5 482 L211.5 497 L203.5 512 L187.5 524 L176.5 543 L171.5 562 L167.5 582 L167.5 602 L171.5 622 L331.5 622 L335.5 602 L335.5 582 L331.5 562 L326.5 543 L315.5 524 L299.5 512 L291.5 497 L275.5 482 L267.5 466 Z" fill="#808080" filter="url(#fbc)"/>
<linearGradient id="tlc0" gradientUnits="userSpaceOnUse" x1="116" y1="0" x2="387" y2="0"><stop offset="0.2491" stop-color="#4c4c4c"/><stop offset="0.3155" stop-color="#616161"/><stop offset="0.3450" stop-color="#7a7a7a"/><stop offset="0.3672" stop-color="#999999"/><stop offset="0.3856" stop-color="#b8b8b8"/><stop offset="0.4114" stop-color="#cccccc"/><stop offset="0.5000" stop-color="#cccccc"/><stop offset="0.5886" stop-color="#cccccc"/><stop offset="0.6144" stop-color="#b8b8b8"/><stop offset="0.6328" stop-color="#999999"/><stop offset="0.6550" stop-color="#7a7a7a"/><stop offset="0.6845" stop-color="#616161"/><stop offset="0.7509" stop-color="#4c4c4c"/></linearGradient>
<path d="M213.5 489 C214.8 489.8 218.5 492.4 221.5 494 C224.5 495.6 228.8 497.5 231.5 498.5 C234.2 499.5 234.2 499.6 237.5 500 C240.8 500.4 246.8 500.8 251.5 500.8 C256.2 500.8 262.2 500.4 265.5 500 C268.8 499.6 268.8 499.5 271.5 498.5 C274.2 497.5 278.5 495.6 281.5 494 C284.5 492.4 288.2 489.8 289.5 489" fill="none" stroke="url(#tlc0)" stroke-width="9" stroke-linecap="round"/>
<path d="M221.5 494 C223.2 494.8 228.8 497.5 231.5 498.5 C234.2 499.5 234.2 499.6 237.5 500 C240.8 500.4 246.8 500.8 251.5 500.8 C256.2 500.8 262.2 500.4 265.5 500 C268.8 499.6 268.8 499.5 271.5 498.5 C274.2 497.5 279.8 494.8 281.5 494" fill="none" stroke="url(#tlc0)" stroke-width="13.6" stroke-linecap="round"/>
<linearGradient id="tlc1" gradientUnits="userSpaceOnUse" x1="116" y1="0" x2="387" y2="0"><stop offset="0.2251" stop-color="#4c4c4c"/><stop offset="0.2915" stop-color="#616161"/><stop offset="0.3210" stop-color="#7a7a7a"/><stop offset="0.3432" stop-color="#999999"/><stop offset="0.3616" stop-color="#b8b8b8"/><stop offset="0.3875" stop-color="#cccccc"/><stop offset="0.5000" stop-color="#cccccc"/><stop offset="0.6125" stop-color="#cccccc"/><stop offset="0.6384" stop-color="#b8b8b8"/><stop offset="0.6568" stop-color="#999999"/><stop offset="0.6790" stop-color="#7a7a7a"/><stop offset="0.7085" stop-color="#616161"/><stop offset="0.7749" stop-color="#4c4c4c"/></linearGradient>
<path d="M203.5 502 C205.2 503 209.8 506 213.5 508 C217.2 510 222.2 512.5 225.5 514 C228.8 515.5 229.2 516.2 233.5 517 C237.8 517.8 245.5 518.9 251.5 518.9 C257.5 518.9 265.2 517.8 269.5 517 C273.8 516.2 274.2 515.5 277.5 514 C280.8 512.5 285.8 510 289.5 508 C293.2 506 297.8 503 299.5 502" fill="none" stroke="url(#tlc1)" stroke-width="9" stroke-linecap="round"/>
<path d="M213.5 508 C215.5 509 222.2 512.5 225.5 514 C228.8 515.5 229.2 516.2 233.5 517 C237.8 517.8 245.5 518.9 251.5 518.9 C257.5 518.9 265.2 517.8 269.5 517 C273.8 516.2 274.2 515.5 277.5 514 C280.8 512.5 287.5 509 289.5 508" fill="none" stroke="url(#tlc1)" stroke-width="14.4" stroke-linecap="round"/>
<linearGradient id="tlc2" gradientUnits="userSpaceOnUse" x1="116" y1="0" x2="387" y2="0"><stop offset="0.0092" stop-color="#5c5c5c"/><stop offset="0.1199" stop-color="#696969"/><stop offset="0.1863" stop-color="#7a7a7a"/><stop offset="0.2306" stop-color="#8f8f8f"/><stop offset="0.2675" stop-color="#a8a8a8"/><stop offset="0.2934" stop-color="#bdbdbd"/><stop offset="0.3192" stop-color="#cccccc"/><stop offset="0.5000" stop-color="#cccccc"/><stop offset="0.6808" stop-color="#cccccc"/><stop offset="0.7066" stop-color="#bdbdbd"/><stop offset="0.7325" stop-color="#a8a8a8"/><stop offset="0.7694" stop-color="#8f8f8f"/><stop offset="0.8137" stop-color="#7a7a7a"/><stop offset="0.8801" stop-color="#696969"/><stop offset="0.9908" stop-color="#5c5c5c"/></linearGradient>
<path d="M127.5 488 C131.5 490 144.2 496.8 151.5 500 C158.8 503.2 166.2 505 171.5 507 C176.8 509 179.8 510 183.5 512 C187.2 514 189.5 516 193.5 519 C197.5 522 202.2 526.9 207.5 530 C212.8 533.1 218.2 535.8 225.5 537.5 C232.8 539.2 242.8 540.5 251.5 540.5 C260.2 540.5 270.2 539.2 277.5 537.5 C284.8 535.8 290.2 533.1 295.5 530 C300.8 526.9 305.5 522 309.5 519 C313.5 516 315.8 514 319.5 512 C323.2 510 326.2 509 331.5 507 C336.8 505 344.2 503.2 351.5 500 C358.8 496.8 371.5 490 375.5 488" fill="none" stroke="url(#tlc2)" stroke-width="11.5" stroke-linecap="round"/>
<path d="M193.5 519 C195.8 520.8 202.2 526.9 207.5 530 C212.8 533.1 218.2 535.8 225.5 537.5 C232.8 539.2 242.8 540.5 251.5 540.5 C260.2 540.5 270.2 539.2 277.5 537.5 C284.8 535.8 290.2 533.1 295.5 530 C300.8 526.9 307.2 520.8 309.5 519" fill="none" stroke="url(#tlc2)" stroke-width="15.3" stroke-linecap="round"/>
<linearGradient id="tlc3" gradientUnits="userSpaceOnUse" x1="116" y1="0" x2="387" y2="0"><stop offset="-0.0175" stop-color="#5c5c5c"/><stop offset="0.0932" stop-color="#696969"/><stop offset="0.1596" stop-color="#7a7a7a"/><stop offset="0.2039" stop-color="#8f8f8f"/><stop offset="0.2408" stop-color="#a8a8a8"/><stop offset="0.2666" stop-color="#bdbdbd"/><stop offset="0.2924" stop-color="#cccccc"/><stop offset="0.5000" stop-color="#cccccc"/><stop offset="0.7076" stop-color="#cccccc"/><stop offset="0.7334" stop-color="#bdbdbd"/><stop offset="0.7592" stop-color="#a8a8a8"/><stop offset="0.7961" stop-color="#8f8f8f"/><stop offset="0.8404" stop-color="#7a7a7a"/><stop offset="0.9068" stop-color="#696969"/><stop offset="1.0175" stop-color="#5c5c5c"/></linearGradient>
<path d="M111.5 517 C114.8 517.8 125.2 520.3 131.5 522 C137.8 523.7 144.2 525.3 149.5 527 C154.8 528.7 158.8 530.3 163.5 532 C168.2 533.7 171.5 534.3 177.5 537 C183.5 539.7 192.2 544.8 199.5 548 C206.8 551.2 212.8 554.6 221.5 556.5 C230.2 558.4 241.5 559.5 251.5 559.5 C261.5 559.5 272.8 558.4 281.5 556.5 C290.2 554.6 296.2 551.2 303.5 548 C310.8 544.8 319.5 539.7 325.5 537 C331.5 534.3 334.8 533.7 339.5 532 C344.2 530.3 348.2 528.7 353.5 527 C358.8 525.3 365.2 523.7 371.5 522 C377.8 520.3 388.2 517.8 391.5 517" fill="none" stroke="url(#tlc3)" stroke-width="12.5" stroke-linecap="round"/>
<path d="M177.5 537 C181.2 538.8 192.2 544.8 199.5 548 C206.8 551.2 212.8 554.6 221.5 556.5 C230.2 558.4 241.5 559.5 251.5 559.5 C261.5 559.5 272.8 558.4 281.5 556.5 C290.2 554.6 296.2 551.2 303.5 548 C310.8 544.8 321.8 538.8 325.5 537" fill="none" stroke="url(#tlc3)" stroke-width="14.0" stroke-linecap="round"/>
<linearGradient id="tlc4" gradientUnits="userSpaceOnUse" x1="116" y1="0" x2="387" y2="0"><stop offset="-0.0424" stop-color="#5c5c5c"/><stop offset="0.0683" stop-color="#696969"/><stop offset="0.1347" stop-color="#7a7a7a"/><stop offset="0.1790" stop-color="#8f8f8f"/><stop offset="0.2159" stop-color="#a8a8a8"/><stop offset="0.2417" stop-color="#bdbdbd"/><stop offset="0.2675" stop-color="#cccccc"/><stop offset="0.5000" stop-color="#cccccc"/><stop offset="0.7325" stop-color="#cccccc"/><stop offset="0.7583" stop-color="#bdbdbd"/><stop offset="0.7841" stop-color="#a8a8a8"/><stop offset="0.8210" stop-color="#8f8f8f"/><stop offset="0.8653" stop-color="#7a7a7a"/><stop offset="0.9317" stop-color="#696969"/><stop offset="1.0424" stop-color="#5c5c5c"/></linearGradient>
<path d="M111.5 545 C114.7 545.5 123.3 546.3 130.5 548 C137.7 549.7 147.7 553.2 154.5 555 C161.3 556.8 165.2 557.2 171.5 559 C177.8 560.8 185 563.2 192.5 566 C200 568.8 206.7 573.4 216.5 575.5 C226.3 577.6 239.8 578.5 251.5 578.5 C263.2 578.5 276.7 577.6 286.5 575.5 C296.3 573.4 303 568.8 310.5 566 C318 563.2 325.2 560.8 331.5 559 C337.8 557.2 341.7 556.8 348.5 555 C355.3 553.2 365.3 549.7 372.5 548 C379.7 546.3 388.3 545.5 391.5 545" fill="none" stroke="url(#tlc4)" stroke-width="12.5" stroke-linecap="round"/>
<path d="M171.5 559 C175 560.2 185 563.2 192.5 566 C200 568.8 206.7 573.4 216.5 575.5 C226.3 577.6 239.8 578.5 251.5 578.5 C263.2 578.5 276.7 577.6 286.5 575.5 C296.3 573.4 303 568.8 310.5 566 C318 563.2 328 560.2 331.5 559" fill="none" stroke="url(#tlc4)" stroke-width="13.6" stroke-linecap="round"/>
<linearGradient id="tlc5" gradientUnits="userSpaceOnUse" x1="116" y1="0" x2="387" y2="0"><stop offset="-0.0572" stop-color="#5c5c5c"/><stop offset="0.0535" stop-color="#696969"/><stop offset="0.1199" stop-color="#7a7a7a"/><stop offset="0.1642" stop-color="#8f8f8f"/><stop offset="0.2011" stop-color="#a8a8a8"/><stop offset="0.2269" stop-color="#bdbdbd"/><stop offset="0.2528" stop-color="#cccccc"/><stop offset="0.5000" stop-color="#cccccc"/><stop offset="0.7472" stop-color="#cccccc"/><stop offset="0.7731" stop-color="#bdbdbd"/><stop offset="0.7989" stop-color="#a8a8a8"/><stop offset="0.8358" stop-color="#8f8f8f"/><stop offset="0.8801" stop-color="#7a7a7a"/><stop offset="0.9465" stop-color="#696969"/><stop offset="1.0572" stop-color="#5c5c5c"/></linearGradient>
<path d="M111.5 569 C115 569.7 125.3 571.5 132.5 573 C139.7 574.5 148 576.7 154.5 578 C161 579.3 165.8 579.8 171.5 581 C177.2 582.2 181.8 582.8 188.5 585 C195.2 587.2 201 592.1 211.5 594 C222 595.9 238.2 596.6 251.5 596.6 C264.8 596.6 281 595.9 291.5 594 C302 592.1 307.8 587.2 314.5 585 C321.2 582.8 325.8 582.2 331.5 581 C337.2 579.8 342 579.3 348.5 578 C355 576.7 363.3 574.5 370.5 573 C377.7 571.5 388 569.7 391.5 569" fill="none" stroke="url(#tlc5)" stroke-width="12.5" stroke-linecap="round"/>
<path d="M171.5 581 C174.3 581.7 181.8 582.8 188.5 585 C195.2 587.2 201 592.1 211.5 594 C222 595.9 238.2 596.6 251.5 596.6 C264.8 596.6 281 595.9 291.5 594 C302 592.1 307.8 587.2 314.5 585 C321.2 582.8 328.7 581.7 331.5 581" fill="none" stroke="url(#tlc5)" stroke-width="13.6" stroke-linecap="round"/>
<linearGradient id="tlc6" gradientUnits="userSpaceOnUse" x1="116" y1="0" x2="387" y2="0"><stop offset="-0.0498" stop-color="#5c5c5c"/><stop offset="0.0609" stop-color="#696969"/><stop offset="0.1273" stop-color="#7a7a7a"/><stop offset="0.1716" stop-color="#8f8f8f"/><stop offset="0.2085" stop-color="#a8a8a8"/><stop offset="0.2343" stop-color="#bdbdbd"/><stop offset="0.2601" stop-color="#cccccc"/><stop offset="0.5000" stop-color="#cccccc"/><stop offset="0.7399" stop-color="#cccccc"/><stop offset="0.7657" stop-color="#bdbdbd"/><stop offset="0.7915" stop-color="#a8a8a8"/><stop offset="0.8284" stop-color="#8f8f8f"/><stop offset="0.8727" stop-color="#7a7a7a"/><stop offset="0.9391" stop-color="#696969"/><stop offset="1.0498" stop-color="#5c5c5c"/></linearGradient>
<path d="M111.5 590 C114.3 590.5 122 591.8 128.5 593 C135 594.2 143.3 595.8 150.5 597 C157.7 598.2 165 598.8 171.5 600 C178 601.2 182.8 602.2 189.5 604 C196.2 605.8 201.2 609.1 211.5 610.5 C221.8 611.9 238.2 612.2 251.5 612.2 C264.8 612.2 281.2 611.9 291.5 610.5 C301.8 609.1 306.8 605.8 313.5 604 C320.2 602.2 325 601.2 331.5 600 C338 598.8 345.3 598.2 352.5 597 C359.7 595.8 368 594.2 374.5 593 C381 591.8 388.7 590.5 391.5 590" fill="none" stroke="url(#tlc6)" stroke-width="12" stroke-linecap="round"/>
<path d="M171.5 600 C174.5 600.7 182.8 602.2 189.5 604 C196.2 605.8 201.2 609.1 211.5 610.5 C221.8 611.9 238.2 612.2 251.5 612.2 C264.8 612.2 281.2 611.9 291.5 610.5 C301.8 609.1 306.8 605.8 313.5 604 C320.2 602.2 328.5 600.7 331.5 600" fill="none" stroke="url(#tlc6)" stroke-width="11.9" stroke-linecap="round"/>
<g filter="url(#blc)">
<ellipse cx="124.6" cy="484.4" rx="8" ry="7" fill="url(#bcc)"/>
<ellipse cx="147.7" cy="500.4" rx="10" ry="7" fill="url(#bcc)"/>
<ellipse cx="131.7" cy="521.7" rx="9" ry="8" fill="url(#bcc)"/>
<ellipse cx="130" cy="548.3" rx="8" ry="7" fill="url(#bcc)"/>
<ellipse cx="131.7" cy="573.1" rx="8" ry="6" fill="url(#bcc)"/>
<ellipse cx="128.2" cy="592.6" rx="8" ry="6" fill="url(#bcc)"/>
<ellipse cx="175" cy="462" rx="20" ry="5" fill="url(#bcc)"/>
<ellipse cx="215" cy="488" rx="7" ry="9" fill="url(#bcc)"/>
<ellipse cx="160" cy="478" rx="8" ry="6" fill="url(#bcc)"/>
<ellipse cx="163.7" cy="532.3" rx="8" ry="6" fill="url(#bgrc)"/>
<ellipse cx="154.8" cy="555.4" rx="9" ry="6" fill="url(#bgrc)"/>
<ellipse cx="154.8" cy="578.4" rx="9" ry="6" fill="url(#bgrc)"/>
<ellipse cx="149.5" cy="596.2" rx="9" ry="6" fill="url(#bgrc)"/>
<ellipse cx="137" cy="615.7" rx="12" ry="5" fill="url(#bgrc)"/>
<ellipse cx="332" cy="478" rx="13" ry="6" fill="url(#bcc)" transform="rotate(-25 332 478)"/>
<ellipse cx="345.6" cy="463" rx="10" ry="5" fill="url(#bcc)"/>
<ellipse cx="311.5" cy="486" rx="9" ry="7" fill="url(#bcc)"/>
<ellipse cx="297.8" cy="500" rx="5" ry="4" fill="url(#bcc)"/>
<ellipse cx="348.4" cy="499" rx="9" ry="6" fill="url(#bcc)"/>
<ellipse cx="370.2" cy="520.6" rx="9" ry="9" fill="url(#bcc)"/>
<ellipse cx="378" cy="545" rx="7" ry="7" fill="url(#bcc)"/>
<ellipse cx="378" cy="570" rx="7" ry="7" fill="url(#bcc)"/>
<ellipse cx="380" cy="592" rx="6" ry="6" fill="url(#bcc)"/>
<ellipse cx="329.2" cy="516.5" rx="8" ry="8" fill="url(#bgrc)"/>
<ellipse cx="343.2" cy="535.9" rx="9" ry="7" fill="url(#bgrc)"/>
<ellipse cx="350.3" cy="557.2" rx="9" ry="6" fill="url(#bgrc)"/>
<ellipse cx="357.4" cy="576.7" rx="9" ry="6" fill="url(#bgrc)"/>
<ellipse cx="366.3" cy="594.4" rx="9" ry="6" fill="url(#bgrc)"/>
<ellipse cx="369.9" cy="615.7" rx="12" ry="5" fill="url(#bgrc)"/>
</g>
<path d="M238 465.5 L266 465.5 L266 473 L270 484 Q268.5 491 252 492 Q236 491 234.5 484 L238 473 Z" fill="#ffffff"/>
<path d="M233.5 491.3 L234 491.4 L234.5 491.5 L234.9 491.5 L235.3 491.6 L235.6 491.6 L235.9 491.6 L236.3 491.7 L236.6 491.6 L237 491.6 L237.5 491.6 L237.9 491.6 L238.5 491.5 L239.3 491.5 L240.2 491.5 L241.2 491.4 L242.3 491.4 L243.4 491.4 L244.6 491.3 L245.8 491.3 L247 491.3 L248.1 491.3 L249.3 491.3 L250.4 491.3 L251.5 491.3 L252.6 491.3 L253.7 491.3 L254.9 491.3 L256 491.3 L257.2 491.3 L258.4 491.3 L259.6 491.4 L260.7 491.4 L261.8 491.4 L262.8 491.5 L263.7 491.5 L264.5 491.5 L265.1 491.6 L265.5 491.6 L266 491.6 L266.4 491.6 L266.7 491.7 L267.1 491.6 L267.4 491.6 L267.7 491.6 L268.1 491.5 L268.5 491.5 L269 491.4 L269.5 491.3 L273.5 505.7 L273.4 505.8 L273.4 505.9 L273.1 506 L272.8 506.2 L272.3 506.5 L271.7 506.8 L271 507 L270.3 507.3 L269.4 507.6 L268.5 507.9 L267.5 508.2 L266.5 508.5 L265.5 508.7 L264.4 508.9 L263.3 509.1 L262.1 509.4 L260.9 509.6 L259.6 509.7 L258.2 509.9 L256.9 510 L255.5 510.2 L254.2 510.2 L252.8 510.3 L251.5 510.3 L250.2 510.3 L248.8 510.2 L247.5 510.2 L246.1 510 L244.8 509.9 L243.4 509.7 L242.1 509.6 L240.9 509.4 L239.7 509.1 L238.6 508.9 L237.5 508.7 L236.5 508.5 L235.5 508.2 L234.5 507.9 L233.6 507.6 L232.7 507.3 L232 507 L231.3 506.8 L230.7 506.5 L230.2 506.2 L229.9 506 L229.6 505.9 L229.6 505.8 L229.5 505.7 Z" fill="#4c4c4c"/>
<path d="M233.1 492.7 L233.5 492.8 L234 492.9 L234.4 493 L234.8 493 L235.1 493.1 L235.5 493.1 L235.9 493.1 L236.3 493.1 L236.7 493.1 L237.2 493.1 L237.7 493.1 L238.3 493 L239.1 493 L240 493 L241.1 492.9 L242.1 492.9 L243.3 492.9 L244.5 492.8 L245.7 492.8 L246.9 492.8 L248.1 492.8 L249.3 492.8 L250.4 492.8 L251.5 492.8 L252.6 492.8 L253.7 492.8 L254.9 492.8 L256.1 492.8 L257.3 492.8 L258.5 492.8 L259.7 492.9 L260.9 492.9 L261.9 492.9 L263 493 L263.9 493 L264.7 493 L265.3 493.1 L265.8 493.1 L266.3 493.1 L266.7 493.1 L267.1 493.1 L267.5 493.1 L267.9 493.1 L268.2 493 L268.6 493 L269 492.9 L269.5 492.8 L269.9 492.7 A6 6 0 0 1 273.1 504.3 L273.1 504.3 L273 504.4 L272.9 504.5 L272.6 504.6 L272.3 504.8 L271.8 505.1 L271.3 505.3 L270.6 505.6 L269.9 505.9 L269.1 506.2 L268.2 506.5 L267.3 506.7 L266.3 507 L265.3 507.2 L264.3 507.4 L263.2 507.6 L262 507.9 L260.8 508.1 L259.5 508.2 L258.2 508.4 L256.8 508.5 L255.5 508.7 L254.1 508.7 L252.8 508.8 L251.5 508.8 L250.2 508.8 L248.9 508.7 L247.5 508.7 L246.2 508.5 L244.8 508.4 L243.5 508.2 L242.2 508.1 L241 507.9 L239.8 507.6 L238.7 507.4 L237.7 507.2 L236.7 507 L235.7 506.7 L234.8 506.5 L233.9 506.2 L233.1 505.9 L232.4 505.6 L231.7 505.3 L231.2 505.1 L230.7 504.8 L230.4 504.6 L230.1 504.5 L230 504.4 L229.9 504.3 A6 6 0 0 1 233.1 492.7 Z" fill="#ffffff"/>
<path d="M228.5 506.7 L229.1 506.9 L229.8 507.2 L230.3 507.4 L230.8 507.5 L231.3 507.7 L231.8 507.8 L232.3 507.9 L232.8 508 L233.3 508.1 L233.9 508.1 L234.5 508.2 L235.2 508.2 L236.2 508.2 L237.4 508.3 L238.7 508.4 L240.1 508.5 L241.5 508.5 L243 508.6 L244.5 508.7 L246 508.8 L247.5 508.8 L248.9 508.9 L250.2 508.9 L251.5 508.9 L252.8 508.9 L254.1 508.9 L255.5 508.8 L257 508.8 L258.5 508.7 L260 508.6 L261.5 508.5 L262.9 508.5 L264.3 508.4 L265.6 508.3 L266.8 508.2 L267.8 508.2 L268.5 508.2 L269.1 508.1 L269.7 508.1 L270.2 508 L270.7 507.9 L271.2 507.8 L271.7 507.7 L272.2 507.5 L272.7 507.4 L273.2 507.2 L273.9 506.9 L274.5 506.7 L280.5 521.3 L280.4 521.4 L280.3 521.5 L279.9 521.8 L279.4 522.1 L278.8 522.5 L278 523 L277.2 523.5 L276.2 524 L275.1 524.5 L273.9 524.9 L272.6 525.4 L271.2 525.8 L269.9 526.2 L268.6 526.5 L267.1 526.9 L265.6 527.3 L263.9 527.6 L262.2 527.9 L260.5 528.2 L258.7 528.4 L256.9 528.6 L255.1 528.8 L253.3 528.9 L251.5 528.9 L249.7 528.9 L247.9 528.8 L246.1 528.6 L244.3 528.4 L242.5 528.2 L240.8 527.9 L239.1 527.6 L237.4 527.3 L235.9 526.9 L234.4 526.5 L233.1 526.2 L231.8 525.8 L230.4 525.4 L229.1 524.9 L227.9 524.5 L226.8 524 L225.8 523.5 L225 523 L224.2 522.5 L223.6 522.1 L223.1 521.8 L222.7 521.5 L222.6 521.4 L222.5 521.3 Z" fill="#4c4c4c"/>
<path d="M228 508.1 L228.5 508.3 L229.1 508.5 L229.7 508.7 L230.2 508.9 L230.7 509 L231.2 509.2 L231.7 509.3 L232.3 509.4 L232.8 509.5 L233.5 509.6 L234.1 509.6 L234.9 509.7 L236 509.7 L237.2 509.8 L238.5 509.9 L239.9 509.9 L241.3 510 L242.8 510.1 L244.3 510.2 L245.9 510.2 L247.4 510.3 L248.8 510.4 L250.2 510.4 L251.5 510.4 L252.8 510.4 L254.2 510.4 L255.6 510.3 L257.1 510.2 L258.7 510.2 L260.2 510.1 L261.7 510 L263.1 509.9 L264.5 509.9 L265.8 509.8 L267 509.7 L268.1 509.7 L268.9 509.6 L269.5 509.6 L270.2 509.5 L270.7 509.4 L271.3 509.3 L271.8 509.2 L272.3 509 L272.8 508.9 L273.3 508.7 L273.9 508.5 L274.5 508.3 L275 508.1 A6.4 6.4 0 0 1 280 519.9 L280 519.9 L279.8 520 L279.6 520.2 L279.3 520.4 L278.8 520.8 L278.2 521.2 L277.4 521.6 L276.6 522.1 L275.7 522.5 L274.6 523 L273.5 523.5 L272.2 523.9 L270.9 524.3 L269.7 524.7 L268.3 525.1 L266.9 525.4 L265.4 525.8 L263.7 526.1 L262.1 526.4 L260.4 526.7 L258.6 526.9 L256.8 527.1 L255 527.3 L253.3 527.4 L251.5 527.4 L249.7 527.4 L248 527.3 L246.2 527.1 L244.4 526.9 L242.6 526.7 L240.9 526.4 L239.3 526.1 L237.6 525.8 L236.1 525.4 L234.7 525.1 L233.3 524.7 L232.1 524.3 L230.8 523.9 L229.5 523.5 L228.4 523 L227.3 522.5 L226.4 522.1 L225.6 521.6 L224.8 521.2 L224.2 520.8 L223.7 520.4 L223.4 520.2 L223.2 520 L223 519.9 A6.4 6.4 0 0 1 228 508.1 Z" fill="#ffffff"/>
<path d="M211 522.1 L212 522.4 L213.3 522.9 L214.5 523.4 L215.9 524 L217.3 524.6 L218.8 525.2 L220.3 525.8 L221.9 526.3 L223.4 526.8 L225 527.3 L226.4 527.6 L227.9 527.9 L229.5 528.2 L231.3 528.5 L233.2 528.7 L235.1 529 L237.1 529.2 L239.2 529.4 L241.3 529.6 L243.4 529.7 L245.5 529.8 L247.5 529.9 L249.5 530 L251.5 530 L253.5 530 L255.5 529.9 L257.5 529.8 L259.6 529.7 L261.7 529.6 L263.8 529.4 L265.9 529.2 L267.9 529 L269.8 528.7 L271.7 528.5 L273.5 528.2 L275.1 527.9 L276.6 527.6 L278 527.3 L279.6 526.8 L281.1 526.3 L282.7 525.8 L284.2 525.2 L285.7 524.6 L287.1 524 L288.5 523.4 L289.7 522.9 L291 522.4 L292 522.1 L299 537.9 L298.4 538.3 L297.5 538.8 L296.4 539.5 L295.1 540.2 L293.7 541.1 L292 541.9 L290.3 542.9 L288.4 543.8 L286.4 544.7 L284.3 545.6 L282.1 546.4 L279.9 547.1 L277.7 547.7 L275.5 548.2 L273.3 548.7 L271 549.1 L268.6 549.5 L266.2 549.9 L263.8 550.2 L261.3 550.5 L258.9 550.7 L256.4 550.9 L253.9 551 L251.5 551 L249.1 551 L246.6 550.9 L244.1 550.7 L241.7 550.5 L239.2 550.2 L236.8 549.9 L234.4 549.5 L232 549.1 L229.7 548.7 L227.5 548.2 L225.3 547.7 L223.1 547.1 L220.9 546.4 L218.7 545.6 L216.6 544.7 L214.6 543.8 L212.7 542.9 L211 541.9 L209.3 541.1 L207.9 540.2 L206.6 539.5 L205.5 538.8 L204.6 538.3 L204 537.9 Z" fill="#4c4c4c"/>
<path d="M210.4 523.4 L211.4 523.8 L212.6 524.3 L213.9 524.8 L215.2 525.3 L216.6 525.9 L218.2 526.5 L219.7 527.1 L221.3 527.7 L222.9 528.2 L224.5 528.7 L226 529.1 L227.5 529.4 L229.2 529.7 L231 529.9 L232.9 530.2 L234.9 530.5 L236.9 530.7 L239 530.9 L241.1 531.1 L243.3 531.2 L245.4 531.3 L247.5 531.4 L249.5 531.5 L251.5 531.5 L253.5 531.5 L255.5 531.4 L257.6 531.3 L259.7 531.2 L261.9 531.1 L264 530.9 L266.1 530.7 L268.1 530.5 L270.1 530.2 L272 529.9 L273.8 529.7 L275.5 529.4 L277 529.1 L278.5 528.7 L280.1 528.2 L281.7 527.7 L283.3 527.1 L284.8 526.5 L286.4 525.9 L287.8 525.3 L289.1 524.8 L290.4 524.3 L291.6 523.8 L292.6 523.4 A7.2 7.2 0 0 1 298.4 536.6 L298.4 536.6 L297.7 537 L296.9 537.5 L295.8 538.1 L294.5 538.9 L293 539.7 L291.4 540.6 L289.7 541.5 L287.8 542.4 L285.9 543.3 L283.8 544.2 L281.7 545 L279.5 545.6 L277.4 546.2 L275.2 546.7 L273 547.2 L270.7 547.7 L268.4 548.1 L266 548.4 L263.6 548.7 L261.2 549 L258.8 549.2 L256.3 549.4 L253.9 549.5 L251.5 549.5 L249.1 549.5 L246.7 549.4 L244.2 549.2 L241.8 549 L239.4 548.7 L237 548.4 L234.6 548.1 L232.3 547.7 L230 547.2 L227.8 546.7 L225.6 546.2 L223.5 545.6 L221.3 545 L219.2 544.2 L217.1 543.3 L215.2 542.4 L213.3 541.5 L211.6 540.6 L210 539.7 L208.5 538.9 L207.2 538.1 L206.1 537.5 L205.3 537 L204.6 536.6 A7.2 7.2 0 0 1 210.4 523.4 Z" fill="#ffffff"/>
<path d="M202.6 540.5 L203.8 540.9 L205.2 541.5 L206.7 542.1 L208.4 542.7 L210.2 543.4 L212 544.1 L214 544.8 L215.9 545.5 L217.9 546.1 L219.8 546.7 L221.7 547.2 L223.5 547.5 L225.5 547.9 L227.6 548.2 L229.9 548.5 L232.2 548.7 L234.5 549 L236.9 549.2 L239.4 549.3 L241.8 549.5 L244.3 549.6 L246.7 549.7 L249.1 549.7 L251.5 549.8 L253.9 549.7 L256.3 549.7 L258.7 549.6 L261.2 549.5 L263.6 549.3 L266.1 549.2 L268.5 549 L270.8 548.7 L273.1 548.5 L275.4 548.2 L277.5 547.9 L279.5 547.5 L281.3 547.2 L283.2 546.7 L285.1 546.1 L287.1 545.5 L289 544.8 L291 544.1 L292.8 543.4 L294.6 542.7 L296.3 542.1 L297.8 541.5 L299.2 540.9 L300.4 540.5 L306.6 555.5 L305.7 555.9 L304.6 556.5 L303.2 557.2 L301.6 558.1 L299.8 559 L297.8 560 L295.7 561 L293.4 562 L291.1 563 L288.6 563.9 L286.1 564.8 L283.5 565.5 L281.1 566.1 L278.6 566.6 L276 567.1 L273.3 567.5 L270.7 567.9 L267.9 568.3 L265.2 568.6 L262.4 568.8 L259.7 569 L256.9 569.1 L254.2 569.2 L251.5 569.2 L248.8 569.2 L246.1 569.1 L243.3 569 L240.6 568.8 L237.8 568.6 L235.1 568.3 L232.3 567.9 L229.7 567.5 L227 567.1 L224.4 566.6 L221.9 566.1 L219.5 565.5 L216.9 564.8 L214.4 563.9 L211.9 563 L209.6 562 L207.3 561 L205.2 560 L203.2 559 L201.4 558.1 L199.8 557.2 L198.4 556.5 L197.3 555.9 L196.4 555.5 Z" fill="#4c4c4c"/>
<path d="M202 541.9 L203.2 542.3 L204.6 542.8 L206.1 543.4 L207.8 544.1 L209.6 544.8 L211.4 545.5 L213.4 546.2 L215.4 546.9 L217.4 547.6 L219.4 548.1 L221.3 548.6 L223.2 549 L225.2 549.3 L227.4 549.6 L229.6 549.9 L232 550.2 L234.4 550.4 L236.8 550.7 L239.3 550.8 L241.7 551 L244.2 551.1 L246.7 551.2 L249.1 551.2 L251.5 551.2 L253.9 551.2 L256.3 551.2 L258.8 551.1 L261.3 551 L263.7 550.8 L266.2 550.7 L268.6 550.4 L271 550.2 L273.4 549.9 L275.6 549.6 L277.8 549.3 L279.8 549 L281.7 548.6 L283.6 548.1 L285.6 547.6 L287.6 546.9 L289.6 546.2 L291.6 545.5 L293.4 544.8 L295.2 544.1 L296.9 543.4 L298.4 542.8 L299.8 542.3 L301 541.9 A6.6 6.6 0 0 1 306 554.1 L306 554.1 L305.1 554.6 L304 555.1 L302.6 555.9 L301 556.7 L299.2 557.6 L297.2 558.6 L295.1 559.6 L292.9 560.6 L290.6 561.6 L288.2 562.5 L285.7 563.3 L283.2 564 L280.8 564.6 L278.3 565.1 L275.8 565.6 L273.1 566.1 L270.5 566.4 L267.8 566.8 L265.1 567.1 L262.3 567.3 L259.6 567.5 L256.9 567.6 L254.2 567.7 L251.5 567.8 L248.8 567.7 L246.1 567.6 L243.4 567.5 L240.7 567.3 L237.9 567.1 L235.2 566.8 L232.5 566.4 L229.9 566.1 L227.2 565.6 L224.7 565.1 L222.2 564.6 L219.8 564 L217.3 563.3 L214.8 562.5 L212.4 561.6 L210.1 560.6 L207.9 559.6 L205.8 558.6 L203.8 557.6 L202 556.7 L200.4 555.9 L199 555.1 L197.9 554.6 L197 554.1 A6.6 6.6 0 0 1 202 541.9 Z" fill="#ffffff"/>
<path d="M195.6 558.7 L196.9 559.2 L198.4 559.8 L200.1 560.5 L201.8 561.3 L203.7 562.1 L205.7 562.9 L207.8 563.7 L209.9 564.5 L212.1 565.2 L214.2 565.8 L216.3 566.4 L218.4 566.8 L220.6 567.1 L223.1 567.5 L225.7 567.8 L228.4 568 L231.2 568.3 L234.1 568.5 L237 568.6 L239.9 568.8 L242.9 568.9 L245.8 568.9 L248.7 569 L251.5 569 L254.3 569 L257.2 568.9 L260.1 568.9 L263.1 568.8 L266 568.6 L268.9 568.5 L271.8 568.3 L274.6 568 L277.3 567.8 L279.9 567.5 L282.4 567.1 L284.6 566.8 L286.7 566.4 L288.8 565.8 L290.9 565.2 L293.1 564.5 L295.2 563.7 L297.3 562.9 L299.3 562.1 L301.2 561.3 L302.9 560.5 L304.6 559.8 L306.1 559.2 L307.4 558.7 L313.6 573.3 L312.6 573.7 L311.4 574.4 L309.9 575.2 L308.2 576.1 L306.3 577.1 L304.1 578.2 L301.8 579.3 L299.4 580.4 L296.8 581.5 L294.1 582.5 L291.3 583.5 L288.4 584.2 L285.6 584.9 L282.7 585.4 L279.7 585.9 L276.7 586.4 L273.6 586.8 L270.4 587.1 L267.3 587.4 L264.1 587.6 L260.9 587.8 L257.7 587.9 L254.6 588 L251.5 588 L248.4 588 L245.3 587.9 L242.1 587.8 L238.9 587.6 L235.7 587.4 L232.6 587.1 L229.4 586.8 L226.3 586.4 L223.3 585.9 L220.3 585.4 L217.4 584.9 L214.6 584.2 L211.7 583.5 L208.9 582.5 L206.2 581.5 L203.6 580.4 L201.2 579.3 L198.9 578.2 L196.7 577.1 L194.8 576.1 L193.1 575.2 L191.6 574.4 L190.4 573.7 L189.4 573.3 Z" fill="#4c4c4c"/>
<path d="M195 560.1 L196.3 560.6 L197.8 561.2 L199.4 561.9 L201.2 562.7 L203.1 563.5 L205.1 564.3 L207.2 565.1 L209.4 565.9 L211.6 566.6 L213.8 567.3 L215.9 567.8 L218.1 568.2 L220.4 568.6 L222.9 568.9 L225.5 569.3 L228.2 569.5 L231.1 569.8 L233.9 570 L236.9 570.1 L239.8 570.3 L242.8 570.4 L245.7 570.4 L248.7 570.5 L251.5 570.5 L254.3 570.5 L257.3 570.4 L260.2 570.4 L263.2 570.3 L266.1 570.1 L269.1 570 L271.9 569.8 L274.8 569.5 L277.5 569.3 L280.1 568.9 L282.6 568.6 L284.9 568.2 L287.1 567.8 L289.2 567.3 L291.4 566.6 L293.6 565.9 L295.8 565.1 L297.9 564.3 L299.9 563.5 L301.8 562.7 L303.6 561.9 L305.2 561.2 L306.7 560.6 L308 560.1 A6.4 6.4 0 0 1 313 571.9 L313 571.9 L312 572.4 L310.8 573 L309.3 573.8 L307.6 574.8 L305.6 575.8 L303.5 576.8 L301.2 578 L298.8 579.1 L296.3 580.1 L293.6 581.1 L290.9 582 L288.1 582.8 L285.3 583.4 L282.5 583.9 L279.5 584.4 L276.5 584.9 L273.4 585.3 L270.3 585.6 L267.2 585.9 L264 586.1 L260.8 586.3 L257.7 586.4 L254.6 586.5 L251.5 586.5 L248.4 586.5 L245.3 586.4 L242.2 586.3 L239 586.1 L235.8 585.9 L232.7 585.6 L229.6 585.3 L226.5 584.9 L223.5 584.4 L220.5 583.9 L217.7 583.4 L214.9 582.8 L212.1 582 L209.4 581.1 L206.7 580.1 L204.2 579.1 L201.8 578 L199.5 576.8 L197.4 575.8 L195.4 574.8 L193.7 573.8 L192.2 573 L191 572.4 L190 571.9 A6.4 6.4 0 0 1 195 560.1 Z" fill="#ffffff"/>
<path d="M191.6 577.7 L192.9 578.2 L194.3 578.9 L195.9 579.5 L197.5 580.3 L199.2 581 L201 581.8 L202.9 582.5 L204.8 583.2 L206.8 583.9 L208.9 584.4 L211 584.9 L213.2 585.3 L215.6 585.6 L218.3 585.9 L221.3 586.2 L224.4 586.4 L227.6 586.6 L231 586.7 L234.4 586.8 L237.9 586.9 L241.3 587 L244.8 587.1 L248.2 587.1 L251.5 587.1 L254.8 587.1 L258.2 587.1 L261.7 587 L265.1 586.9 L268.6 586.8 L272 586.7 L275.4 586.6 L278.6 586.4 L281.7 586.2 L284.7 585.9 L287.4 585.6 L289.8 585.3 L292 584.9 L294.1 584.4 L296.2 583.9 L298.2 583.2 L300.1 582.5 L302 581.8 L303.8 581 L305.5 580.3 L307.1 579.5 L308.7 578.9 L310.1 578.2 L311.4 577.7 L317.6 592.3 L316.7 592.7 L315.7 593.3 L314.4 594 L312.8 594.9 L311 595.9 L309 596.9 L306.8 598 L304.4 599.1 L301.8 600.1 L299.1 601.1 L296.2 602 L293.2 602.7 L290.1 603.3 L286.9 603.8 L283.6 604.3 L280.2 604.7 L276.7 605 L273.1 605.3 L269.5 605.6 L265.8 605.8 L262.1 605.9 L258.5 606 L255 606.1 L251.5 606.1 L248 606.1 L244.5 606 L240.9 605.9 L237.2 605.8 L233.5 605.6 L229.9 605.3 L226.3 605 L222.8 604.7 L219.4 604.3 L216.1 603.8 L212.9 603.3 L209.8 602.7 L206.8 602 L203.9 601.1 L201.2 600.1 L198.6 599.1 L196.2 598 L194 596.9 L192 595.9 L190.2 594.9 L188.6 594 L187.3 593.3 L186.3 592.7 L185.4 592.3 Z" fill="#4c4c4c"/>
<path d="M191 579.1 L192.2 579.6 L193.7 580.2 L195.2 580.9 L196.8 581.6 L198.5 582.4 L200.3 583.1 L202.3 583.9 L204.3 584.6 L206.3 585.3 L208.5 585.9 L210.6 586.4 L212.9 586.8 L215.4 587.1 L218.1 587.4 L221.1 587.7 L224.2 587.9 L227.5 588.1 L230.9 588.2 L234.3 588.3 L237.8 588.4 L241.3 588.5 L244.8 588.6 L248.2 588.6 L251.5 588.6 L254.8 588.6 L258.2 588.6 L261.7 588.5 L265.2 588.4 L268.7 588.3 L272.1 588.2 L275.5 588.1 L278.8 587.9 L281.9 587.7 L284.9 587.4 L287.6 587.1 L290.1 586.8 L292.4 586.4 L294.5 585.9 L296.7 585.3 L298.7 584.6 L300.7 583.9 L302.7 583.1 L304.5 582.4 L306.2 581.6 L307.8 580.9 L309.3 580.2 L310.8 579.6 L312 579.1 A6.4 6.4 0 0 1 317 590.9 L317 590.9 L316.1 591.3 L315.1 591.9 L313.7 592.7 L312.1 593.5 L310.3 594.5 L308.3 595.5 L306.2 596.6 L303.8 597.7 L301.3 598.7 L298.6 599.6 L295.8 600.5 L292.9 601.2 L289.9 601.8 L286.8 602.3 L283.5 602.8 L280.1 603.2 L276.6 603.5 L273 603.8 L269.4 604.1 L265.7 604.3 L262.1 604.4 L258.5 604.5 L255 604.6 L251.5 604.6 L248 604.6 L244.5 604.5 L240.9 604.4 L237.3 604.3 L233.6 604.1 L230 603.8 L226.4 603.5 L222.9 603.2 L219.5 602.8 L216.2 602.3 L213.1 601.8 L210.1 601.2 L207.2 600.5 L204.4 599.6 L201.7 598.7 L199.2 597.7 L196.8 596.6 L194.7 595.5 L192.7 594.5 L190.9 593.5 L189.3 592.7 L187.9 591.9 L186.9 591.3 L186 590.9 A6.4 6.4 0 0 1 191 579.1 Z" fill="#ffffff"/>
<path d="M191.7 597.3 L192.9 597.6 L194.2 598 L195.6 598.5 L197.2 599 L198.8 599.6 L200.5 600.1 L202.3 600.6 L204.2 601.1 L206.1 601.6 L208.2 602 L210.3 602.4 L212.6 602.7 L215.1 602.9 L217.8 603.1 L220.8 603.2 L224 603.3 L227.3 603.4 L230.7 603.5 L234.2 603.6 L237.7 603.6 L241.2 603.7 L244.7 603.7 L248.1 603.7 L251.5 603.7 L254.9 603.7 L258.3 603.7 L261.8 603.7 L265.3 603.6 L268.8 603.6 L272.3 603.5 L275.7 603.4 L279 603.3 L282.2 603.2 L285.2 603.1 L287.9 602.9 L290.4 602.7 L292.7 602.4 L294.8 602 L296.9 601.6 L298.8 601.1 L300.7 600.6 L302.5 600.1 L304.2 599.6 L305.8 599 L307.4 598.5 L308.8 598 L310.1 597.6 L311.3 597.3 L315.7 610.7 L314.8 611.1 L313.9 611.5 L312.6 612 L311.1 612.7 L309.4 613.4 L307.5 614.2 L305.4 615 L303.1 615.7 L300.7 616.5 L298.1 617.2 L295.4 617.8 L292.6 618.3 L289.6 618.8 L286.6 619.1 L283.3 619.5 L280 619.7 L276.5 620 L272.9 620.2 L269.3 620.4 L265.7 620.5 L262 620.6 L258.5 620.7 L254.9 620.7 L251.5 620.7 L248.1 620.7 L244.5 620.7 L241 620.6 L237.3 620.5 L233.7 620.4 L230.1 620.2 L226.5 620 L223 619.7 L219.7 619.5 L216.4 619.1 L213.4 618.8 L210.4 618.3 L207.6 617.8 L204.9 617.2 L202.3 616.5 L199.9 615.7 L197.6 615 L195.5 614.2 L193.6 613.4 L191.9 612.7 L190.4 612 L189.1 611.5 L188.2 611.1 L187.3 610.7 Z" fill="#4c4c4c"/>
<path d="M191.2 598.7 L192.4 599 L193.7 599.4 L195.1 599.9 L196.6 600.4 L198.2 601 L200 601.5 L201.8 602.1 L203.7 602.6 L205.8 603.1 L207.9 603.5 L210.1 603.9 L212.4 604.1 L214.9 604.4 L217.7 604.6 L220.7 604.7 L223.9 604.8 L227.2 604.9 L230.6 605 L234.1 605.1 L237.6 605.1 L241.2 605.2 L244.7 605.2 L248.1 605.2 L251.5 605.2 L254.9 605.2 L258.3 605.2 L261.8 605.2 L265.4 605.1 L268.9 605.1 L272.4 605 L275.8 604.9 L279.1 604.8 L282.3 604.7 L285.3 604.6 L288.1 604.4 L290.6 604.1 L292.9 603.9 L295.1 603.5 L297.2 603.1 L299.3 602.6 L301.2 602.1 L303 601.5 L304.8 601 L306.4 600.4 L307.9 599.9 L309.3 599.4 L310.6 599 L311.8 598.7 A5.6 5.6 0 0 1 315.2 609.3 L315.2 609.3 L314.4 609.7 L313.3 610.1 L312 610.6 L310.5 611.3 L308.8 612 L307 612.8 L304.9 613.5 L302.7 614.3 L300.3 615 L297.8 615.7 L295.1 616.3 L292.4 616.9 L289.5 617.3 L286.4 617.6 L283.2 618 L279.9 618.3 L276.4 618.5 L272.9 618.7 L269.3 618.9 L265.6 619 L262 619.1 L258.4 619.2 L254.9 619.2 L251.5 619.2 L248.1 619.2 L244.6 619.2 L241 619.1 L237.4 619 L233.7 618.9 L230.1 618.7 L226.6 618.5 L223.1 618.3 L219.8 618 L216.6 617.6 L213.5 617.3 L210.6 616.9 L207.9 616.3 L205.2 615.7 L202.7 615 L200.3 614.3 L198.1 613.5 L196 612.8 L194.2 612 L192.5 611.3 L191 610.6 L189.7 610.1 L188.6 609.7 L187.8 609.3 A5.6 5.6 0 0 1 191.2 598.7 Z" fill="#ffffff"/>
</g>
<rect x="111" y="624.0" width="281" height="1.2" fill="#4c4c4c"/>
<rect x="119.0" y="622.5" width="4.2" height="4.2" fill="#cecece"/>
<rect x="125.1" y="622.5" width="4.2" height="4.2" fill="#b3b3b3"/>
<rect x="131.2" y="622.5" width="4.2" height="4.2" fill="#c6c6c6"/>
<rect x="137.3" y="622.5" width="4.2" height="4.2" fill="#cbcbcb"/>
<rect x="143.4" y="622.5" width="4.2" height="4.2" fill="#b3b3b3"/>
<rect x="149.5" y="622.5" width="4.2" height="4.2" fill="#cbcbcb"/>
<rect x="155.6" y="622.5" width="4.2" height="4.2" fill="#e0e0e0"/>
<rect x="161.7" y="622.5" width="4.2" height="4.2" fill="#cdcdcd"/>
<rect x="167.8" y="622.5" width="4.2" height="4.2" fill="#e7e7e7"/>
<rect x="173.9" y="622.5" width="4.2" height="4.2" fill="#dcdcdc"/>
<rect x="180.0" y="622.5" width="4.2" height="4.2" fill="#cfcfcf"/>
<rect x="186.1" y="622.5" width="4.2" height="4.2" fill="#eaeaea"/>
<rect x="192.2" y="622.5" width="4.2" height="4.2" fill="#f3f3f3"/>
<rect x="198.3" y="622.5" width="4.2" height="4.2" fill="#f0f0f0"/>
<rect x="204.4" y="622.5" width="4.2" height="4.2" fill="#fcfcfc"/>
<rect x="210.5" y="622.5" width="4.2" height="4.2" fill="#f1f1f1"/>
<rect x="216.6" y="622.5" width="4.2" height="4.2" fill="#f2f2f2"/>
<rect x="222.7" y="622.5" width="4.2" height="4.2" fill="#fcfcfc"/>
<rect x="228.8" y="622.5" width="4.2" height="4.2" fill="#efefef"/>
<rect x="234.9" y="622.5" width="4.2" height="4.2" fill="#f4f4f4"/>
<rect x="241.0" y="622.5" width="4.2" height="4.2" fill="#fbfbfb"/>
<rect x="247.1" y="622.5" width="4.2" height="4.2" fill="#eeeeee"/>
<rect x="253.2" y="622.5" width="4.2" height="4.2" fill="#f7f7f7"/>
<rect x="259.3" y="622.5" width="4.2" height="4.2" fill="#fafafa"/>
<rect x="265.4" y="622.5" width="4.2" height="4.2" fill="#ededed"/>
<rect x="271.5" y="622.5" width="4.2" height="4.2" fill="#f9f9f9"/>
<rect x="277.6" y="622.5" width="4.2" height="4.2" fill="#f8f8f8"/>
<rect x="283.7" y="622.5" width="4.2" height="4.2" fill="#ededed"/>
<rect x="289.8" y="622.5" width="4.2" height="4.2" fill="#fbfbfb"/>
<rect x="295.9" y="622.5" width="4.2" height="4.2" fill="#f5f5f5"/>
<rect x="302.0" y="622.5" width="4.2" height="4.2" fill="#eeeeee"/>
<rect x="308.1" y="622.5" width="4.2" height="4.2" fill="#fcfcfc"/>
<rect x="314.2" y="622.5" width="4.2" height="4.2" fill="#d8d8d8"/>
<rect x="320.3" y="622.5" width="4.2" height="4.2" fill="#d1d1d1"/>
<rect x="326.4" y="622.5" width="4.2" height="4.2" fill="#ebebeb"/>
<rect x="332.5" y="622.5" width="4.2" height="4.2" fill="#d4d4d4"/>
<rect x="338.6" y="622.5" width="4.2" height="4.2" fill="#d5d5d5"/>
<rect x="344.7" y="622.5" width="4.2" height="4.2" fill="#eaeaea"/>
<rect x="350.8" y="622.5" width="4.2" height="4.2" fill="#d0d0d0"/>
<rect x="356.9" y="622.5" width="4.2" height="4.2" fill="#c0c0c0"/>
<rect x="363.0" y="622.5" width="4.2" height="4.2" fill="#cfcfcf"/>
<rect x="369.1" y="622.5" width="4.2" height="4.2" fill="#b4b4b4"/>
<rect x="375.2" y="622.5" width="4.2" height="4.2" fill="#c5c5c5"/>
<rect x="381.3" y="622.5" width="4.2" height="4.2" fill="#cccccc"/>
</g></g>
<defs>
<filter id="cmd" filterUnits="userSpaceOnUse" x="650.8" y="457.2" width="265.4" height="433.6" color-interpolation-filters="sRGB"><feGaussianBlur stdDeviation="0.9"/><feComponentTransfer><feFuncR type="table" tableValues="0 0 0 0 0 0.002 0.009 0.017 0.025 0.032 0.036 0.04 0.044 0.044 0.029 0.015 0 0 0 0 0.02 0.044 0.069 0.179 0.347 0.515 0.659 0.796 0.933 0.948 0.963 0.977 0.975 0.968 0.961 0.943 0.925 0.922 0.918 0.914 0.91"/><feFuncG type="table" tableValues="0.063 0.082 0.102 0.122 0.141 0.165 0.204 0.243 0.282 0.327 0.396 0.465 0.533 0.605 0.691 0.777 0.863 0.877 0.892 0.907 0.906 0.901 0.896 0.908 0.932 0.956 0.942 0.918 0.894 0.799 0.703 0.607 0.499 0.387 0.275 0.18 0.086 0.073 0.059 0.045 0.031"/><feFuncB type="table" tableValues="0.745 0.774 0.802 0.831 0.859 0.886 0.902 0.919 0.936 0.949 0.947 0.945 0.943 0.938 0.924 0.909 0.894 0.799 0.703 0.607 0.471 0.324 0.176 0.109 0.095 0.081 0.056 0.028 0 0 0 0 0 0 0 0.01 0.02 0.02 0.02 0.02 0.02"/></feComponentTransfer></filter>
<filter id="bld" x="-20%" y="-20%" width="140%" height="140%"><feGaussianBlur stdDeviation="1.5"/></filter>
<clipPath id="cld"><rect x="650.8" y="457.2" width="265.4" height="433.6"/></clipPath>
<clipPath id="upd"><rect x="645.8" y="452.2" width="275.4" height="166.8"/></clipPath>
<linearGradient id="tgd" gradientUnits="userSpaceOnUse" x1="650.8" y1="0" x2="916.1999999999999" y2="0"><stop offset="-0.0301" stop-color="#6b6b6b"/><stop offset="0.0452" stop-color="#737373"/><stop offset="0.1206" stop-color="#808080"/><stop offset="0.1959" stop-color="#949494"/><stop offset="0.2638" stop-color="#adadad"/><stop offset="0.3090" stop-color="#bdbdbd"/><stop offset="0.4974" stop-color="#c7c7c7"/><stop offset="0.6858" stop-color="#bdbdbd"/><stop offset="0.7310" stop-color="#adadad"/><stop offset="0.7988" stop-color="#949494"/><stop offset="0.8742" stop-color="#808080"/><stop offset="0.9495" stop-color="#737373"/><stop offset="1.0249" stop-color="#6b6b6b"/></linearGradient>
<radialGradient id="sgd"><stop offset="0" stop-color="#ffffff"/><stop offset="0.40" stop-color="#e6e6e6"/><stop offset="0.50" stop-color="#b8b8b8"/><stop offset="0.63" stop-color="#949494"/><stop offset="0.78" stop-color="#757575"/><stop offset="0.9" stop-color="#666666" stop-opacity="0.6"/><stop offset="1" stop-color="#5c5c5c" stop-opacity="0"/></radialGradient>
<radialGradient id="bcd"><stop offset="0" stop-color="#787878"/><stop offset="0.6" stop-color="#6e6e6e"/><stop offset="1" stop-color="#616161" stop-opacity="0"/></radialGradient>
<radialGradient id="bgrd"><stop offset="0" stop-color="#949494"/><stop offset="0.6" stop-color="#858585"/><stop offset="1" stop-color="#6b6b6b" stop-opacity="0"/></radialGradient>
<radialGradient id="bgd"><stop offset="0" stop-color="#8c8c8c"/><stop offset="0.5" stop-color="#757575"/><stop offset="0.8" stop-color="#666666" stop-opacity="0.8"/><stop offset="1" stop-color="#4c4c4c" stop-opacity="0"/></radialGradient>
<linearGradient id="edd" gradientUnits="userSpaceOnUse" x1="650.8" y1="0" x2="916.1999999999999" y2="0"><stop offset="0" stop-color="#0f0f0f" stop-opacity="0.6"/><stop offset="0.151" stop-color="#0f0f0f" stop-opacity="0"/><stop offset="0.849" stop-color="#0f0f0f" stop-opacity="0"/><stop offset="1" stop-color="#0f0f0f" stop-opacity="0.6"/></linearGradient>
<linearGradient id="mpd" x1="0" y1="0" x2="0" y2="1"><stop offset="0.000" stop-color="#fff" stop-opacity="0.12"/><stop offset="0.020" stop-color="#fff" stop-opacity="0.2"/><stop offset="0.063" stop-color="#fff" stop-opacity="0.34"/><stop offset="0.160" stop-color="#fff" stop-opacity="0.5"/><stop offset="0.270" stop-color="#fff" stop-opacity="0.66"/><stop offset="0.336" stop-color="#fff" stop-opacity="0.75"/><stop offset="0.375" stop-color="#fff" stop-opacity="0.864"/><stop offset="0.440" stop-color="#fff" stop-opacity="0.97"/><stop offset="0.500" stop-color="#fff" stop-opacity="1"/><stop offset="0.560" stop-color="#fff" stop-opacity="0.97"/><stop offset="0.625" stop-color="#fff" stop-opacity="0.864"/><stop offset="0.664" stop-color="#fff" stop-opacity="0.75"/><stop offset="0.730" stop-color="#fff" stop-opacity="0.66"/><stop offset="0.840" stop-color="#fff" stop-opacity="0.5"/><stop offset="0.937" stop-color="#fff" stop-opacity="0.34"/><stop offset="0.980" stop-color="#fff" stop-opacity="0.2"/><stop offset="1.000" stop-color="#fff" stop-opacity="0.12"/></linearGradient>
<pattern id="mptd" patternUnits="userSpaceOnUse" x="0" y="620.40" width="2000" height="18.0"><rect width="2000" height="18.0" fill="url(#mpd)"/></pattern>
<mask id="mkd" mask-type="alpha" maskUnits="userSpaceOnUse" x="645.8" y="619" width="275.4" height="276.79999999999995"><rect x="645.8" y="619" width="275.4" height="276.79999999999995" fill="url(#mptd)"/></mask>
<linearGradient id="evd0" gradientUnits="userSpaceOnUse" x1="650.8" y1="0" x2="916.1999999999999" y2="0"><stop offset="-0.0151" stop-color="#696969"/><stop offset="0.0226" stop-color="#757575"/><stop offset="0.0791" stop-color="#7d7d7d"/><stop offset="0.1356" stop-color="#808080"/><stop offset="0.1922" stop-color="#858585"/><stop offset="0.2675" stop-color="#9e9e9e"/><stop offset="0.3240" stop-color="#bdbdbd"/><stop offset="0.3693" stop-color="#e6e6e6"/><stop offset="0.4333" stop-color="#fafafa"/><stop offset="0.4974" stop-color="#ffffff"/><stop offset="0.5614" stop-color="#fafafa"/><stop offset="0.6255" stop-color="#e6e6e6"/><stop offset="0.6707" stop-color="#bdbdbd"/><stop offset="0.7272" stop-color="#9e9e9e"/><stop offset="0.8026" stop-color="#858585"/><stop offset="0.8591" stop-color="#808080"/><stop offset="0.9156" stop-color="#7d7d7d"/><stop offset="0.9721" stop-color="#757575"/><stop offset="1.0098" stop-color="#696969"/></linearGradient>
<linearGradient id="evd1" gradientUnits="userSpaceOnUse" x1="650.8" y1="0" x2="916.1999999999999" y2="0"><stop offset="-0.0151" stop-color="#696969"/><stop offset="0.0226" stop-color="#757575"/><stop offset="0.0791" stop-color="#7d7d7d"/><stop offset="0.1356" stop-color="#808080"/><stop offset="0.2261" stop-color="#858585"/><stop offset="0.3014" stop-color="#9e9e9e"/><stop offset="0.3580" stop-color="#bdbdbd"/><stop offset="0.4032" stop-color="#e6e6e6"/><stop offset="0.4503" stop-color="#fafafa"/><stop offset="0.4974" stop-color="#ffffff"/><stop offset="0.5445" stop-color="#fafafa"/><stop offset="0.5916" stop-color="#e6e6e6"/><stop offset="0.6368" stop-color="#bdbdbd"/><stop offset="0.6933" stop-color="#9e9e9e"/><stop offset="0.7687" stop-color="#858585"/><stop offset="0.8591" stop-color="#808080"/><stop offset="0.9156" stop-color="#7d7d7d"/><stop offset="0.9721" stop-color="#757575"/><stop offset="1.0098" stop-color="#696969"/></linearGradient>
<linearGradient id="evd2" gradientUnits="userSpaceOnUse" x1="650.8" y1="0" x2="916.1999999999999" y2="0"><stop offset="-0.0151" stop-color="#666666"/><stop offset="0.0226" stop-color="#737373"/><stop offset="0.0791" stop-color="#7b7b7b"/><stop offset="0.1356" stop-color="#7e7e7e"/><stop offset="0.2148" stop-color="#858585"/><stop offset="0.2901" stop-color="#9e9e9e"/><stop offset="0.3466" stop-color="#bdbdbd"/><stop offset="0.3919" stop-color="#e6e6e6"/><stop offset="0.4446" stop-color="#fafafa"/><stop offset="0.4974" stop-color="#ffffff"/><stop offset="0.5501" stop-color="#fafafa"/><stop offset="0.6029" stop-color="#e6e6e6"/><stop offset="0.6481" stop-color="#bdbdbd"/><stop offset="0.7046" stop-color="#9e9e9e"/><stop offset="0.7800" stop-color="#858585"/><stop offset="0.8591" stop-color="#7e7e7e"/><stop offset="0.9156" stop-color="#7b7b7b"/><stop offset="0.9721" stop-color="#737373"/><stop offset="1.0098" stop-color="#666666"/></linearGradient>
<linearGradient id="evd3" gradientUnits="userSpaceOnUse" x1="650.8" y1="0" x2="916.1999999999999" y2="0"><stop offset="-0.0151" stop-color="#616161"/><stop offset="0.0226" stop-color="#6e6e6e"/><stop offset="0.0791" stop-color="#777777"/><stop offset="0.1356" stop-color="#7c7c7c"/><stop offset="0.2035" stop-color="#858585"/><stop offset="0.2788" stop-color="#9e9e9e"/><stop offset="0.3353" stop-color="#bdbdbd"/><stop offset="0.3806" stop-color="#e6e6e6"/><stop offset="0.4390" stop-color="#fafafa"/><stop offset="0.4974" stop-color="#ffffff"/><stop offset="0.5558" stop-color="#fafafa"/><stop offset="0.6142" stop-color="#e6e6e6"/><stop offset="0.6594" stop-color="#bdbdbd"/><stop offset="0.7159" stop-color="#9e9e9e"/><stop offset="0.7913" stop-color="#858585"/><stop offset="0.8591" stop-color="#7c7c7c"/><stop offset="0.9156" stop-color="#777777"/><stop offset="0.9721" stop-color="#6e6e6e"/><stop offset="1.0098" stop-color="#616161"/></linearGradient>
<linearGradient id="evd4" gradientUnits="userSpaceOnUse" x1="650.8" y1="0" x2="916.1999999999999" y2="0"><stop offset="-0.0151" stop-color="#5c5c5c"/><stop offset="0.0226" stop-color="#696969"/><stop offset="0.0791" stop-color="#737373"/><stop offset="0.1356" stop-color="#797979"/><stop offset="0.1658" stop-color="#858585"/><stop offset="0.2411" stop-color="#9e9e9e"/><stop offset="0.2977" stop-color="#bdbdbd"/><stop offset="0.3429" stop-color="#e6e6e6"/><stop offset="0.4201" stop-color="#fafafa"/><stop offset="0.4974" stop-color="#ffffff"/><stop offset="0.5746" stop-color="#fafafa"/><stop offset="0.6518" stop-color="#e6e6e6"/><stop offset="0.6971" stop-color="#bdbdbd"/><stop offset="0.7536" stop-color="#9e9e9e"/><stop offset="0.8289" stop-color="#858585"/><stop offset="0.8591" stop-color="#797979"/><stop offset="0.9156" stop-color="#737373"/><stop offset="0.9721" stop-color="#696969"/><stop offset="1.0098" stop-color="#5c5c5c"/></linearGradient>
<linearGradient id="evd5" gradientUnits="userSpaceOnUse" x1="650.8" y1="0" x2="916.1999999999999" y2="0"><stop offset="-0.0151" stop-color="#545454"/><stop offset="0.0226" stop-color="#616161"/><stop offset="0.0791" stop-color="#6e6e6e"/><stop offset="0.1356" stop-color="#757575"/><stop offset="0.1545" stop-color="#858585"/><stop offset="0.2298" stop-color="#9e9e9e"/><stop offset="0.2864" stop-color="#bdbdbd"/><stop offset="0.3316" stop-color="#e6e6e6"/><stop offset="0.4145" stop-color="#fafafa"/><stop offset="0.4974" stop-color="#ffffff"/><stop offset="0.5803" stop-color="#fafafa"/><stop offset="0.6631" stop-color="#e6e6e6"/><stop offset="0.7084" stop-color="#bdbdbd"/><stop offset="0.7649" stop-color="#9e9e9e"/><stop offset="0.8402" stop-color="#858585"/><stop offset="0.8591" stop-color="#757575"/><stop offset="0.9156" stop-color="#6e6e6e"/><stop offset="0.9721" stop-color="#616161"/><stop offset="1.0098" stop-color="#545454"/></linearGradient>
<linearGradient id="evd6" gradientUnits="userSpaceOnUse" x1="650.8" y1="0" x2="916.1999999999999" y2="0"><stop offset="-0.0151" stop-color="#4c4c4c"/><stop offset="0.0226" stop-color="#595959"/><stop offset="0.0791" stop-color="#686868"/><stop offset="0.1356" stop-color="#717171"/><stop offset="0.1620" stop-color="#858585"/><stop offset="0.2374" stop-color="#9e9e9e"/><stop offset="0.2939" stop-color="#bdbdbd"/><stop offset="0.3391" stop-color="#e6e6e6"/><stop offset="0.4182" stop-color="#fafafa"/><stop offset="0.4974" stop-color="#ffffff"/><stop offset="0.5765" stop-color="#fafafa"/><stop offset="0.6556" stop-color="#e6e6e6"/><stop offset="0.7008" stop-color="#bdbdbd"/><stop offset="0.7573" stop-color="#9e9e9e"/><stop offset="0.8327" stop-color="#858585"/><stop offset="0.8591" stop-color="#717171"/><stop offset="0.9156" stop-color="#686868"/><stop offset="0.9721" stop-color="#595959"/><stop offset="1.0098" stop-color="#4c4c4c"/></linearGradient>
<linearGradient id="evd7" gradientUnits="userSpaceOnUse" x1="650.8" y1="0" x2="916.1999999999999" y2="0"><stop offset="-0.0151" stop-color="#454545"/><stop offset="0.0226" stop-color="#525252"/><stop offset="0.0791" stop-color="#626262"/><stop offset="0.1356" stop-color="#6e6e6e"/><stop offset="0.1620" stop-color="#858585"/><stop offset="0.2374" stop-color="#9e9e9e"/><stop offset="0.2939" stop-color="#bdbdbd"/><stop offset="0.3391" stop-color="#e6e6e6"/><stop offset="0.4182" stop-color="#fafafa"/><stop offset="0.4974" stop-color="#ffffff"/><stop offset="0.5765" stop-color="#fafafa"/><stop offset="0.6556" stop-color="#e6e6e6"/><stop offset="0.7008" stop-color="#bdbdbd"/><stop offset="0.7573" stop-color="#9e9e9e"/><stop offset="0.8327" stop-color="#858585"/><stop offset="0.8591" stop-color="#6e6e6e"/><stop offset="0.9156" stop-color="#626262"/><stop offset="0.9721" stop-color="#525252"/><stop offset="1.0098" stop-color="#454545"/></linearGradient>
<linearGradient id="evd8" gradientUnits="userSpaceOnUse" x1="650.8" y1="0" x2="916.1999999999999" y2="0"><stop offset="-0.0151" stop-color="#3d3d3d"/><stop offset="0.0226" stop-color="#4a4a4a"/><stop offset="0.0791" stop-color="#5c5c5c"/><stop offset="0.1356" stop-color="#6a6a6a"/><stop offset="0.1620" stop-color="#858585"/><stop offset="0.2374" stop-color="#9e9e9e"/><stop offset="0.2939" stop-color="#bdbdbd"/><stop offset="0.3391" stop-color="#e6e6e6"/><stop offset="0.4182" stop-color="#fafafa"/><stop offset="0.4974" stop-color="#ffffff"/><stop offset="0.5765" stop-color="#fafafa"/><stop offset="0.6556" stop-color="#e6e6e6"/><stop offset="0.7008" stop-color="#bdbdbd"/><stop offset="0.7573" stop-color="#9e9e9e"/><stop offset="0.8327" stop-color="#858585"/><stop offset="0.8591" stop-color="#6a6a6a"/><stop offset="0.9156" stop-color="#5c5c5c"/><stop offset="0.9721" stop-color="#4a4a4a"/><stop offset="1.0098" stop-color="#3d3d3d"/></linearGradient>
<linearGradient id="evd9" gradientUnits="userSpaceOnUse" x1="650.8" y1="0" x2="916.1999999999999" y2="0"><stop offset="-0.0151" stop-color="#383838"/><stop offset="0.0226" stop-color="#454545"/><stop offset="0.0791" stop-color="#595959"/><stop offset="0.1356" stop-color="#676767"/><stop offset="0.1620" stop-color="#858585"/><stop offset="0.2374" stop-color="#9e9e9e"/><stop offset="0.2939" stop-color="#bdbdbd"/><stop offset="0.3391" stop-color="#e6e6e6"/><stop offset="0.4182" stop-color="#fafafa"/><stop offset="0.4974" stop-color="#ffffff"/><stop offset="0.5765" stop-color="#fafafa"/><stop offset="0.6556" stop-color="#e6e6e6"/><stop offset="0.7008" stop-color="#bdbdbd"/><stop offset="0.7573" stop-color="#9e9e9e"/><stop offset="0.8327" stop-color="#858585"/><stop offset="0.8591" stop-color="#676767"/><stop offset="0.9156" stop-color="#595959"/><stop offset="0.9721" stop-color="#454545"/><stop offset="1.0098" stop-color="#383838"/></linearGradient>
<linearGradient id="evd10" gradientUnits="userSpaceOnUse" x1="650.8" y1="0" x2="916.1999999999999" y2="0"><stop offset="-0.0151" stop-color="#333333"/><stop offset="0.0226" stop-color="#404040"/><stop offset="0.0791" stop-color="#555555"/><stop offset="0.1356" stop-color="#656565"/><stop offset="0.1620" stop-color="#858585"/><stop offset="0.2374" stop-color="#9e9e9e"/><stop offset="0.2939" stop-color="#bdbdbd"/><stop offset="0.3391" stop-color="#e6e6e6"/><stop offset="0.4182" stop-color="#fafafa"/><stop offset="0.4974" stop-color="#ffffff"/><stop offset="0.5765" stop-color="#fafafa"/><stop offset="0.6556" stop-color="#e6e6e6"/><stop offset="0.7008" stop-color="#bdbdbd"/><stop offset="0.7573" stop-color="#9e9e9e"/><stop offset="0.8327" stop-color="#858585"/><stop offset="0.8591" stop-color="#656565"/><stop offset="0.9156" stop-color="#555555"/><stop offset="0.9721" stop-color="#404040"/><stop offset="1.0098" stop-color="#333333"/></linearGradient>
<linearGradient id="evd11" gradientUnits="userSpaceOnUse" x1="650.8" y1="0" x2="916.1999999999999" y2="0"><stop offset="-0.0151" stop-color="#303030"/><stop offset="0.0226" stop-color="#3d3d3d"/><stop offset="0.0791" stop-color="#535353"/><stop offset="0.1356" stop-color="#636363"/><stop offset="0.1620" stop-color="#858585"/><stop offset="0.2374" stop-color="#9e9e9e"/><stop offset="0.2939" stop-color="#bdbdbd"/><stop offset="0.3391" stop-color="#e6e6e6"/><stop offset="0.4182" stop-color="#fafafa"/><stop offset="0.4974" stop-color="#ffffff"/><stop offset="0.5765" stop-color="#fafafa"/><stop offset="0.6556" stop-color="#e6e6e6"/><stop offset="0.7008" stop-color="#bdbdbd"/><stop offset="0.7573" stop-color="#9e9e9e"/><stop offset="0.8327" stop-color="#858585"/><stop offset="0.8591" stop-color="#636363"/><stop offset="0.9156" stop-color="#535353"/><stop offset="0.9721" stop-color="#3d3d3d"/><stop offset="1.0098" stop-color="#303030"/></linearGradient>
<linearGradient id="evd12" gradientUnits="userSpaceOnUse" x1="650.8" y1="0" x2="916.1999999999999" y2="0"><stop offset="-0.0151" stop-color="#2e2e2e"/><stop offset="0.0226" stop-color="#3b3b3b"/><stop offset="0.0791" stop-color="#515151"/><stop offset="0.1356" stop-color="#626262"/><stop offset="0.1620" stop-color="#858585"/><stop offset="0.2374" stop-color="#9e9e9e"/><stop offset="0.2939" stop-color="#bdbdbd"/><stop offset="0.3391" stop-color="#e6e6e6"/><stop offset="0.4182" stop-color="#fafafa"/><stop offset="0.4974" stop-color="#ffffff"/><stop offset="0.5765" stop-color="#fafafa"/><stop offset="0.6556" stop-color="#e6e6e6"/><stop offset="0.7008" stop-color="#bdbdbd"/><stop offset="0.7573" stop-color="#9e9e9e"/><stop offset="0.8327" stop-color="#858585"/><stop offset="0.8591" stop-color="#626262"/><stop offset="0.9156" stop-color="#515151"/><stop offset="0.9721" stop-color="#3b3b3b"/><stop offset="1.0098" stop-color="#2e2e2e"/></linearGradient>
<linearGradient id="evd13" gradientUnits="userSpaceOnUse" x1="650.8" y1="0" x2="916.1999999999999" y2="0"><stop offset="-0.0151" stop-color="#2e2e2e"/><stop offset="0.0226" stop-color="#3b3b3b"/><stop offset="0.0791" stop-color="#515151"/><stop offset="0.1356" stop-color="#626262"/><stop offset="0.1620" stop-color="#858585"/><stop offset="0.2374" stop-color="#9e9e9e"/><stop offset="0.2939" stop-color="#bdbdbd"/><stop offset="0.3391" stop-color="#e6e6e6"/><stop offset="0.4182" stop-color="#fafafa"/><stop offset="0.4974" stop-color="#ffffff"/><stop offset="0.5765" stop-color="#fafafa"/><stop offset="0.6556" stop-color="#e6e6e6"/><stop offset="0.7008" stop-color="#bdbdbd"/><stop offset="0.7573" stop-color="#9e9e9e"/><stop offset="0.8327" stop-color="#858585"/><stop offset="0.8591" stop-color="#626262"/><stop offset="0.9156" stop-color="#515151"/><stop offset="0.9721" stop-color="#3b3b3b"/><stop offset="1.0098" stop-color="#2e2e2e"/></linearGradient>
<linearGradient id="evd14" gradientUnits="userSpaceOnUse" x1="650.8" y1="0" x2="916.1999999999999" y2="0"><stop offset="-0.0151" stop-color="#2e2e2e"/><stop offset="0.0226" stop-color="#3b3b3b"/><stop offset="0.0791" stop-color="#515151"/><stop offset="0.1356" stop-color="#626262"/><stop offset="0.1620" stop-color="#858585"/><stop offset="0.2374" stop-color="#9e9e9e"/><stop offset="0.2939" stop-color="#bdbdbd"/><stop offset="0.3391" stop-color="#e6e6e6"/><stop offset="0.4182" stop-color="#fafafa"/><stop offset="0.4974" stop-color="#ffffff"/><stop offset="0.5765" stop-color="#fafafa"/><stop offset="0.6556" stop-color="#e6e6e6"/><stop offset="0.7008" stop-color="#bdbdbd"/><stop offset="0.7573" stop-color="#9e9e9e"/><stop offset="0.8327" stop-color="#858585"/><stop offset="0.8591" stop-color="#626262"/><stop offset="0.9156" stop-color="#515151"/><stop offset="0.9721" stop-color="#3b3b3b"/><stop offset="1.0098" stop-color="#2e2e2e"/></linearGradient>
</defs>
<g clip-path="url(#cld)"><g filter="url(#cmd)">
<rect x="645.8" y="452.2" width="275.4" height="443.6" fill="#333333"/>
<rect x="645.8" y="619" width="275.4" height="276.79999999999995" fill="#1f1f1f"/>
<g mask="url(#mkd)">
<rect x="645.8" y="619.00" width="275.4" height="19.40" fill="url(#evd0)"/>
<rect x="645.8" y="638.40" width="275.4" height="18.00" fill="url(#evd1)"/>
<rect x="645.8" y="656.40" width="275.4" height="18.00" fill="url(#evd2)"/>
<rect x="645.8" y="674.40" width="275.4" height="18.00" fill="url(#evd3)"/>
<rect x="645.8" y="692.40" width="275.4" height="18.00" fill="url(#evd4)"/>
<rect x="645.8" y="710.40" width="275.4" height="18.00" fill="url(#evd5)"/>
<rect x="645.8" y="728.40" width="275.4" height="18.00" fill="url(#evd6)"/>
<rect x="645.8" y="746.40" width="275.4" height="18.00" fill="url(#evd7)"/>
<rect x="645.8" y="764.40" width="275.4" height="18.00" fill="url(#evd8)"/>
<rect x="645.8" y="782.40" width="275.4" height="18.00" fill="url(#evd9)"/>
<rect x="645.8" y="800.40" width="275.4" height="18.00" fill="url(#evd10)"/>
<rect x="645.8" y="818.40" width="275.4" height="18.00" fill="url(#evd11)"/>
<rect x="645.8" y="836.40" width="275.4" height="18.00" fill="url(#evd12)"/>
<rect x="645.8" y="854.40" width="275.4" height="18.00" fill="url(#evd13)"/>
<rect x="645.8" y="872.40" width="275.4" height="18.00" fill="url(#evd14)"/>
</g>
<g clip-path="url(#upd)"><g filter="url(#bld)">
<ellipse cx="783" cy="476" rx="23.3" ry="22" fill="none" stroke="#787878" stroke-width="11" stroke-linecap="round"/>
<ellipse cx="783" cy="476" rx="43.5" ry="41" fill="none" stroke="#757575" stroke-width="10.5" stroke-linecap="round"/>
<ellipse cx="783" cy="476" rx="63.6" ry="60" fill="none" stroke="#737373" stroke-width="10" stroke-linecap="round"/>
<ellipse cx="783" cy="476" rx="83.7" ry="79" fill="none" stroke="#707070" stroke-width="9.5" stroke-linecap="round"/>
<ellipse cx="783" cy="476" rx="103.9" ry="98" fill="none" stroke="#6e6e6e" stroke-width="9" stroke-linecap="round"/>
<ellipse cx="783" cy="476" rx="124.0" ry="117" fill="none" stroke="#6b6b6b" stroke-width="8.5" stroke-linecap="round"/>
<ellipse cx="783" cy="476" rx="144.2" ry="136" fill="none" stroke="#696969" stroke-width="8.5" stroke-linecap="round"/>
<ellipse cx="783" cy="476" rx="164.3" ry="155" fill="none" stroke="#666666" stroke-width="8.5" stroke-linecap="round"/>
<ellipse cx="783" cy="476" rx="184.4" ry="174" fill="none" stroke="#666666" stroke-width="8.5" stroke-linecap="round"/>
</g>
<linearGradient id="tld0" gradientUnits="userSpaceOnUse" x1="650.8" y1="0" x2="916.1999999999999" y2="0"><stop offset="0.0283" stop-color="#737373"/><stop offset="0.1413" stop-color="#808080"/><stop offset="0.2167" stop-color="#8c8c8c"/><stop offset="0.2769" stop-color="#9e9e9e"/><stop offset="0.3146" stop-color="#b8b8b8"/><stop offset="0.3448" stop-color="#cccccc"/><stop offset="0.4974" stop-color="#cccccc"/><stop offset="0.6500" stop-color="#cccccc"/><stop offset="0.6801" stop-color="#b8b8b8"/><stop offset="0.7178" stop-color="#9e9e9e"/><stop offset="0.7781" stop-color="#8c8c8c"/><stop offset="0.8534" stop-color="#808080"/><stop offset="0.9665" stop-color="#737373"/></linearGradient>
<path d="M724.8 470 C725.3 472.3 726.1 479.7 727.8 484 C729.5 488.3 731.6 492 734.8 496 C738 500 742.5 504.8 746.8 508 C751.1 511.2 754.8 513.8 760.8 515.5 C766.8 517.2 775.5 518 782.8 518 C790.1 518 798.8 517.2 804.8 515.5 C810.8 513.8 814.5 511.2 818.8 508 C823.1 504.8 827.6 500 830.8 496 C834 492 836.1 488.3 837.8 484 C839.5 479.7 840.3 472.3 840.8 470" fill="none" stroke="url(#tld0)" stroke-width="10" stroke-linecap="round"/>
<path d="M734.8 496 C736.8 498 742.5 504.8 746.8 508 C751.1 511.2 754.8 513.8 760.8 515.5 C766.8 517.2 775.5 518 782.8 518 C790.1 518 798.8 517.2 804.8 515.5 C810.8 513.8 814.5 511.2 818.8 508 C823.1 504.8 828.8 498 830.8 496" fill="none" stroke="url(#tld0)" stroke-width="14.4" stroke-linecap="round"/>
<linearGradient id="tld1" gradientUnits="userSpaceOnUse" x1="650.8" y1="0" x2="916.1999999999999" y2="0"><stop offset="-0.0122" stop-color="#737373"/><stop offset="0.1008" stop-color="#808080"/><stop offset="0.1761" stop-color="#8c8c8c"/><stop offset="0.2364" stop-color="#9e9e9e"/><stop offset="0.2741" stop-color="#b8b8b8"/><stop offset="0.3043" stop-color="#cccccc"/><stop offset="0.4974" stop-color="#cccccc"/><stop offset="0.6905" stop-color="#cccccc"/><stop offset="0.7206" stop-color="#b8b8b8"/><stop offset="0.7583" stop-color="#9e9e9e"/><stop offset="0.8186" stop-color="#8c8c8c"/><stop offset="0.8939" stop-color="#808080"/><stop offset="1.0070" stop-color="#737373"/></linearGradient>
<path d="M704.8 480 C705.8 482.7 708.1 490.7 710.8 496 C713.5 501.3 716.6 507 720.8 512 C725 517 730.1 522.2 735.8 526 C741.5 529.8 747 532.7 754.8 534.5 C762.6 536.3 773.5 537 782.8 537 C792.1 537 803 536.3 810.8 534.5 C818.6 532.7 824.1 529.8 829.8 526 C835.5 522.2 840.6 517 844.8 512 C849 507 852.1 501.3 854.8 496 C857.5 490.7 859.8 482.7 860.8 480" fill="none" stroke="url(#tld1)" stroke-width="10" stroke-linecap="round"/>
<path d="M720.8 512 C723.3 514.3 730.1 522.2 735.8 526 C741.5 529.8 747 532.7 754.8 534.5 C762.6 536.3 773.5 537 782.8 537 C792.1 537 803 536.3 810.8 534.5 C818.6 532.7 824.1 529.8 829.8 526 C835.5 522.2 842.3 514.3 844.8 512" fill="none" stroke="url(#tld1)" stroke-width="14.0" stroke-linecap="round"/>
<linearGradient id="tld2" gradientUnits="userSpaceOnUse" x1="650.8" y1="0" x2="916.1999999999999" y2="0"><stop offset="-0.0283" stop-color="#737373"/><stop offset="0.0848" stop-color="#808080"/><stop offset="0.1601" stop-color="#8c8c8c"/><stop offset="0.2204" stop-color="#9e9e9e"/><stop offset="0.2581" stop-color="#b8b8b8"/><stop offset="0.2882" stop-color="#cccccc"/><stop offset="0.4974" stop-color="#cccccc"/><stop offset="0.7065" stop-color="#cccccc"/><stop offset="0.7366" stop-color="#b8b8b8"/><stop offset="0.7743" stop-color="#9e9e9e"/><stop offset="0.8346" stop-color="#8c8c8c"/><stop offset="0.9099" stop-color="#808080"/><stop offset="1.0230" stop-color="#737373"/></linearGradient>
<path d="M686.8 490 C688.5 493.3 692.5 503.3 696.8 510 C701.1 516.7 707 524 712.8 530 C718.6 536 725.5 542.1 731.8 546 C738.1 549.9 742.3 551.8 750.8 553.5 C759.3 555.2 772.1 556 782.8 556 C793.5 556 806.3 555.2 814.8 553.5 C823.3 551.8 827.5 549.9 833.8 546 C840.1 542.1 847 536 852.8 530 C858.6 524 864.5 516.7 868.8 510 C873.1 503.3 877.1 493.3 878.8 490" fill="none" stroke="url(#tld2)" stroke-width="10" stroke-linecap="round"/>
<path d="M712.8 530 C716 532.7 725.5 542.1 731.8 546 C738.1 549.9 742.3 551.8 750.8 553.5 C759.3 555.2 772.1 556 782.8 556 C793.5 556 806.3 555.2 814.8 553.5 C823.3 551.8 827.5 549.9 833.8 546 C840.1 542.1 849.6 532.7 852.8 530" fill="none" stroke="url(#tld2)" stroke-width="14.4" stroke-linecap="round"/>
<linearGradient id="tld3" gradientUnits="userSpaceOnUse" x1="650.8" y1="0" x2="916.1999999999999" y2="0"><stop offset="-0.0311" stop-color="#737373"/><stop offset="0.0820" stop-color="#808080"/><stop offset="0.1573" stop-color="#8c8c8c"/><stop offset="0.2176" stop-color="#9e9e9e"/><stop offset="0.2553" stop-color="#b8b8b8"/><stop offset="0.2854" stop-color="#cccccc"/><stop offset="0.4974" stop-color="#cccccc"/><stop offset="0.7093" stop-color="#cccccc"/><stop offset="0.7394" stop-color="#b8b8b8"/><stop offset="0.7771" stop-color="#9e9e9e"/><stop offset="0.8374" stop-color="#8c8c8c"/><stop offset="0.9128" stop-color="#808080"/><stop offset="1.0258" stop-color="#737373"/></linearGradient>
<path d="M672.8 505 C674.8 508.5 679.5 518.8 684.8 526 C690.1 533.2 697.1 541.7 704.8 548 C712.5 554.3 723.5 560.3 730.8 564 C738.1 567.7 740.1 568.7 748.8 570 C757.5 571.3 771.5 572 782.8 572 C794.1 572 808.1 571.3 816.8 570 C825.5 568.7 827.5 567.7 834.8 564 C842.1 560.3 853.1 554.3 860.8 548 C868.5 541.7 875.5 533.2 880.8 526 C886.1 518.8 890.8 508.5 892.8 505" fill="none" stroke="url(#tld3)" stroke-width="10" stroke-linecap="round"/>
<path d="M704.8 548 C709.1 550.7 723.5 560.3 730.8 564 C738.1 567.7 740.1 568.7 748.8 570 C757.5 571.3 771.5 572 782.8 572 C794.1 572 808.1 571.3 816.8 570 C825.5 568.7 827.5 567.7 834.8 564 C842.1 560.3 856.5 550.7 860.8 548" fill="none" stroke="url(#tld3)" stroke-width="14.0" stroke-linecap="round"/>
<linearGradient id="tld4" gradientUnits="userSpaceOnUse" x1="650.8" y1="0" x2="916.1999999999999" y2="0"><stop offset="-0.0575" stop-color="#737373"/><stop offset="0.0556" stop-color="#808080"/><stop offset="0.1309" stop-color="#8c8c8c"/><stop offset="0.1912" stop-color="#9e9e9e"/><stop offset="0.2289" stop-color="#b8b8b8"/><stop offset="0.2590" stop-color="#cccccc"/><stop offset="0.4974" stop-color="#cccccc"/><stop offset="0.7357" stop-color="#cccccc"/><stop offset="0.7658" stop-color="#b8b8b8"/><stop offset="0.8035" stop-color="#9e9e9e"/><stop offset="0.8638" stop-color="#8c8c8c"/><stop offset="0.9391" stop-color="#808080"/><stop offset="1.0522" stop-color="#737373"/></linearGradient>
<path d="M642.8 460 C643.1 465 642.8 480.3 644.8 490 C646.8 499.7 650.1 508.8 654.8 518 C659.5 527.2 666.1 536.8 672.8 545 C679.5 553.2 686.3 560.8 694.8 567 C703.3 573.2 715.8 578.8 723.8 582 C731.8 585.2 733 585.4 742.8 586.5 C752.6 587.6 769.5 588.5 782.8 588.5 C796.1 588.5 813 587.6 822.8 586.5 C832.6 585.4 833.8 585.2 841.8 582 C849.8 578.8 862.3 573.2 870.8 567 C879.3 560.8 886.1 553.2 892.8 545 C899.5 536.8 906.1 527.2 910.8 518 C915.5 508.8 918.8 499.7 920.8 490 C922.8 480.3 922.5 465 922.8 460" fill="none" stroke="url(#tld4)" stroke-width="10" stroke-linecap="round"/>
<path d="M694.8 567 C699.6 569.5 715.8 578.8 723.8 582 C731.8 585.2 733 585.4 742.8 586.5 C752.6 587.6 769.5 588.5 782.8 588.5 C796.1 588.5 813 587.6 822.8 586.5 C832.6 585.4 833.8 585.2 841.8 582 C849.8 578.8 866 569.5 870.8 567" fill="none" stroke="url(#tld4)" stroke-width="14.0" stroke-linecap="round"/>
<linearGradient id="tld5" gradientUnits="userSpaceOnUse" x1="650.8" y1="0" x2="916.1999999999999" y2="0"><stop offset="-0.0537" stop-color="#737373"/><stop offset="0.0593" stop-color="#808080"/><stop offset="0.1347" stop-color="#8c8c8c"/><stop offset="0.1950" stop-color="#9e9e9e"/><stop offset="0.2327" stop-color="#b8b8b8"/><stop offset="0.2628" stop-color="#cccccc"/><stop offset="0.4974" stop-color="#cccccc"/><stop offset="0.7319" stop-color="#cccccc"/><stop offset="0.7621" stop-color="#b8b8b8"/><stop offset="0.7997" stop-color="#9e9e9e"/><stop offset="0.8600" stop-color="#8c8c8c"/><stop offset="0.9354" stop-color="#808080"/><stop offset="1.0484" stop-color="#737373"/></linearGradient>
<path d="M646.8 544 C650.1 548 659.1 560.7 666.8 568 C674.5 575.3 683.3 582.7 692.8 588 C702.3 593.3 715.5 597.4 723.8 600 C732.1 602.6 733 602.7 742.8 603.5 C752.6 604.3 769.5 604.7 782.8 604.7 C796.1 604.7 813 604.3 822.8 603.5 C832.6 602.7 833.5 602.6 841.8 600 C850.1 597.4 863.3 593.3 872.8 588 C882.3 582.7 891.1 575.3 898.8 568 C906.5 560.7 915.5 548 918.8 544" fill="none" stroke="url(#tld5)" stroke-width="10" stroke-linecap="round"/>
<path d="M692.8 588 C698 590 715.5 597.4 723.8 600 C732.1 602.6 733 602.7 742.8 603.5 C752.6 604.3 769.5 604.7 782.8 604.7 C796.1 604.7 813 604.3 822.8 603.5 C832.6 602.7 833.5 602.6 841.8 600 C850.1 597.4 867.6 590 872.8 588" fill="none" stroke="url(#tld5)" stroke-width="12.3" stroke-linecap="round"/>
<g filter="url(#bld)">
</g>
<path d="M776 463.5 L790 463.5 L790 470 Q794 488 812 497 Q816 506 783 507.5 Q750 506 754 497 Q772 488 776 470 Z" fill="#ffffff"/>
<path d="M750.5 501.6 L751.4 501.9 L752.4 502.5 L753.4 503 L754.5 503.5 L755.6 504.1 L756.7 504.6 L757.9 505.1 L759 505.6 L760.2 506 L761.3 506.4 L762.3 506.6 L763.3 506.8 L764.5 507 L765.9 507.1 L767.4 507.3 L769 507.5 L770.6 507.6 L772.4 507.7 L774.1 507.8 L775.9 507.9 L777.6 507.9 L779.4 508 L781.1 508 L782.8 508 L784.5 508 L786.2 508 L788 507.9 L789.7 507.9 L791.5 507.8 L793.2 507.7 L795 507.6 L796.6 507.5 L798.2 507.3 L799.7 507.1 L801.1 507 L802.3 506.8 L803.3 506.6 L804.3 506.4 L805.4 506 L806.6 505.6 L807.7 505.1 L808.9 504.6 L810 504.1 L811.1 503.5 L812.2 503 L813.2 502.5 L814.2 501.9 L815.1 501.6 L822.5 514.4 L822.1 514.8 L821.5 515.3 L820.8 515.9 L819.8 516.7 L818.7 517.6 L817.4 518.6 L816.1 519.6 L814.6 520.6 L812.9 521.6 L811.2 522.5 L809.3 523.4 L807.3 524.2 L805.4 524.8 L803.5 525.4 L801.5 525.9 L799.5 526.3 L797.4 526.7 L795.4 527.1 L793.2 527.3 L791.1 527.6 L789 527.8 L786.9 527.9 L784.8 528 L782.8 528 L780.8 528 L778.7 527.9 L776.6 527.8 L774.5 527.6 L772.4 527.3 L770.2 527.1 L768.2 526.7 L766.1 526.3 L764.1 525.9 L762.1 525.4 L760.2 524.8 L758.3 524.2 L756.3 523.4 L754.4 522.5 L752.7 521.6 L751 520.6 L749.5 519.6 L748.2 518.6 L746.9 517.6 L745.8 516.7 L744.8 515.9 L744.1 515.3 L743.5 514.8 L743.1 514.4 Z" fill="#4c4c4c"/>
<path d="M749.8 502.9 L750.6 503.2 L751.6 503.7 L752.6 504.2 L753.6 504.8 L754.8 505.3 L755.9 505.9 L757.1 506.4 L758.3 506.9 L759.5 507.4 L760.7 507.8 L761.8 508 L762.9 508.2 L764.1 508.4 L765.6 508.6 L767.1 508.8 L768.7 508.9 L770.4 509.1 L772.2 509.2 L774 509.3 L775.8 509.4 L777.6 509.4 L779.3 509.5 L781.1 509.5 L782.8 509.5 L784.5 509.5 L786.3 509.5 L788 509.4 L789.8 509.4 L791.6 509.3 L793.4 509.2 L795.2 509.1 L796.9 508.9 L798.5 508.8 L800 508.6 L801.5 508.4 L802.7 508.2 L803.8 508 L804.9 507.8 L806.1 507.4 L807.3 506.9 L808.5 506.4 L809.7 505.9 L810.8 505.3 L812 504.8 L813 504.2 L814 503.7 L815 503.2 L815.8 502.9 A5.9 5.9 0 0 1 821.8 513.1 L821.8 513.1 L821.3 513.5 L820.7 514 L819.9 514.7 L819 515.5 L817.9 516.4 L816.7 517.3 L815.3 518.3 L813.9 519.3 L812.3 520.2 L810.6 521.2 L808.8 522 L806.9 522.8 L805 523.4 L803.2 523.9 L801.2 524.4 L799.3 524.8 L797.2 525.2 L795.2 525.6 L793.1 525.9 L791 526.1 L788.9 526.3 L786.9 526.4 L784.8 526.5 L782.8 526.5 L780.8 526.5 L778.7 526.4 L776.7 526.3 L774.6 526.1 L772.5 525.9 L770.4 525.6 L768.4 525.2 L766.3 524.8 L764.4 524.4 L762.4 523.9 L760.6 523.4 L758.7 522.8 L756.8 522 L755 521.2 L753.3 520.2 L751.7 519.3 L750.3 518.3 L748.9 517.3 L747.7 516.4 L746.6 515.5 L745.7 514.7 L744.9 514 L744.3 513.5 L743.8 513.1 A5.9 5.9 0 0 1 749.8 502.9 Z" fill="#ffffff"/>
<path d="M739 519.4 L740 519.9 L741.3 520.4 L742.6 521 L744.1 521.6 L745.6 522.3 L747.2 522.9 L748.8 523.6 L750.5 524.2 L752.1 524.7 L753.8 525.2 L755.3 525.6 L756.9 525.9 L758.6 526.1 L760.5 526.3 L762.5 526.5 L764.6 526.7 L766.8 526.8 L769 527 L771.3 527.1 L773.6 527.1 L776 527.2 L778.3 527.2 L780.6 527.2 L782.8 527.2 L785 527.2 L787.3 527.2 L789.6 527.2 L792 527.1 L794.3 527.1 L796.6 527 L798.8 526.8 L801 526.7 L803.1 526.5 L805.1 526.3 L807 526.1 L808.7 525.9 L810.3 525.6 L811.8 525.2 L813.5 524.7 L815.1 524.2 L816.8 523.6 L818.4 522.9 L820 522.3 L821.5 521.6 L823 521 L824.3 520.4 L825.6 519.9 L826.6 519.4 L833 532.6 L832.2 533 L831.4 533.6 L830.2 534.3 L828.9 535.2 L827.4 536.2 L825.7 537.2 L823.9 538.3 L821.9 539.4 L819.8 540.4 L817.6 541.4 L815.3 542.4 L812.9 543.1 L810.5 543.8 L808.2 544.3 L805.7 544.8 L803.2 545.2 L800.7 545.6 L798.1 545.9 L795.6 546.2 L793 546.4 L790.4 546.6 L787.8 546.7 L785.3 546.7 L782.8 546.8 L780.3 546.7 L777.8 546.7 L775.2 546.6 L772.6 546.4 L770 546.2 L767.5 545.9 L764.9 545.6 L762.4 545.2 L759.9 544.8 L757.4 544.3 L755.1 543.8 L752.7 543.1 L750.3 542.4 L748 541.4 L745.8 540.4 L743.7 539.4 L741.7 538.3 L739.9 537.2 L738.2 536.2 L736.7 535.2 L735.4 534.3 L734.2 533.6 L733.4 533 L732.6 532.6 Z" fill="#4c4c4c"/>
<path d="M738.3 520.8 L739.3 521.2 L740.6 521.7 L741.9 522.3 L743.4 522.9 L744.9 523.6 L746.5 524.3 L748.2 524.9 L749.9 525.6 L751.6 526.1 L753.3 526.6 L754.9 527 L756.5 527.3 L758.3 527.6 L760.2 527.8 L762.3 528 L764.4 528.2 L766.6 528.3 L768.9 528.5 L771.2 528.5 L773.5 528.6 L775.9 528.7 L778.2 528.7 L780.5 528.7 L782.8 528.8 L785.1 528.7 L787.4 528.7 L789.7 528.7 L792.1 528.6 L794.4 528.5 L796.7 528.5 L799 528.3 L801.2 528.2 L803.3 528 L805.4 527.8 L807.3 527.6 L809.1 527.3 L810.7 527 L812.3 526.6 L814 526.1 L815.7 525.6 L817.4 524.9 L819.1 524.3 L820.7 523.6 L822.2 522.9 L823.7 522.3 L825 521.7 L826.3 521.2 L827.3 520.8 A5.8 5.8 0 0 1 832.3 531.2 L832.3 531.2 L831.6 531.7 L830.7 532.3 L829.5 533 L828.2 533.9 L826.7 534.9 L825 535.9 L823.2 537 L821.3 538 L819.2 539.1 L817.1 540 L814.8 540.9 L812.5 541.7 L810.2 542.3 L807.9 542.8 L805.5 543.3 L803.1 543.7 L800.6 544.1 L798 544.4 L795.5 544.7 L792.9 544.9 L790.3 545.1 L787.8 545.2 L785.3 545.2 L782.8 545.2 L780.3 545.2 L777.8 545.2 L775.3 545.1 L772.7 544.9 L770.1 544.7 L767.6 544.4 L765 544.1 L762.5 543.7 L760.1 543.3 L757.7 542.8 L755.4 542.3 L753.1 541.7 L750.8 540.9 L748.5 540 L746.4 539.1 L744.3 538 L742.4 537 L740.6 535.9 L738.9 534.9 L737.4 533.9 L736.1 533 L734.9 532.3 L734 531.7 L733.3 531.2 A5.8 5.8 0 0 1 738.3 520.8 Z" fill="#ffffff"/>
<path d="M734.8 539.2 L735.8 539.5 L737.1 540 L738.4 540.5 L739.7 541.1 L741.2 541.6 L742.7 542.2 L744.3 542.7 L745.9 543.2 L747.5 543.7 L749.2 544.1 L750.9 544.4 L752.6 544.7 L754.5 544.9 L756.7 545.1 L759 545.3 L761.5 545.4 L764.1 545.6 L766.7 545.7 L769.4 545.8 L772.1 545.9 L774.9 545.9 L777.6 546 L780.2 546 L782.8 546 L785.4 546 L788 546 L790.7 545.9 L793.5 545.9 L796.2 545.8 L798.9 545.7 L801.5 545.6 L804.1 545.4 L806.6 545.3 L808.9 545.1 L811.1 544.9 L813 544.7 L814.7 544.4 L816.4 544.1 L818.1 543.7 L819.7 543.2 L821.3 542.7 L822.9 542.2 L824.4 541.6 L825.9 541.1 L827.2 540.5 L828.5 540 L829.8 539.5 L830.8 539.2 L836.8 552.8 L836 553.2 L835.2 553.7 L834.1 554.4 L832.8 555.2 L831.3 556.1 L829.7 557 L827.9 558 L825.9 558.9 L823.8 559.9 L821.5 560.8 L819.1 561.6 L816.6 562.3 L814.1 562.9 L811.5 563.4 L808.9 563.9 L806.1 564.4 L803.2 564.7 L800.3 565.1 L797.4 565.4 L794.4 565.6 L791.5 565.8 L788.5 565.9 L785.6 566 L782.8 566 L780 566 L777.1 565.9 L774.1 565.8 L771.2 565.6 L768.2 565.4 L765.3 565.1 L762.4 564.7 L759.5 564.4 L756.7 563.9 L754.1 563.4 L751.5 562.9 L749 562.3 L746.5 561.6 L744.1 560.8 L741.8 559.9 L739.7 558.9 L737.7 558 L735.9 557 L734.3 556.1 L732.8 555.2 L731.5 554.4 L730.4 553.7 L729.6 553.2 L728.8 552.8 Z" fill="#4c4c4c"/>
<path d="M734.2 540.5 L735.2 540.9 L736.4 541.4 L737.7 541.9 L739.1 542.4 L740.5 543 L742.1 543.6 L743.7 544.1 L745.3 544.6 L747 545.1 L748.8 545.5 L750.5 545.9 L752.3 546.2 L754.3 546.4 L756.5 546.6 L758.8 546.8 L761.3 546.9 L763.9 547.1 L766.6 547.2 L769.3 547.3 L772.1 547.4 L774.8 547.4 L777.5 547.5 L780.2 547.5 L782.8 547.5 L785.4 547.5 L788.1 547.5 L790.8 547.4 L793.5 547.4 L796.3 547.3 L799 547.2 L801.7 547.1 L804.3 546.9 L806.8 546.8 L809.1 546.6 L811.3 546.4 L813.3 546.2 L815.1 545.9 L816.8 545.5 L818.6 545.1 L820.3 544.6 L821.9 544.1 L823.5 543.6 L825.1 543 L826.5 542.4 L827.9 541.9 L829.2 541.4 L830.4 540.9 L831.4 540.5 A5.9 5.9 0 0 1 836.2 551.5 L836.2 551.5 L835.4 551.9 L834.6 552.4 L833.5 553.1 L832.2 553.8 L830.7 554.7 L829.1 555.6 L827.3 556.6 L825.3 557.5 L823.3 558.5 L821 559.4 L818.7 560.2 L816.3 560.8 L813.8 561.4 L811.3 561.9 L808.7 562.4 L805.9 562.9 L803.1 563.2 L800.2 563.6 L797.3 563.9 L794.4 564.1 L791.4 564.3 L788.5 564.4 L785.6 564.5 L782.8 564.5 L780 564.5 L777.1 564.4 L774.2 564.3 L771.2 564.1 L768.3 563.9 L765.4 563.6 L762.5 563.2 L759.7 562.9 L756.9 562.4 L754.3 561.9 L751.8 561.4 L749.3 560.8 L746.9 560.2 L744.6 559.4 L742.3 558.5 L740.3 557.5 L738.3 556.6 L736.5 555.6 L734.9 554.7 L733.4 553.8 L732.1 553.1 L731 552.4 L730.2 551.9 L729.4 551.5 A5.9 5.9 0 0 1 734.2 540.5 Z" fill="#ffffff"/>
<path d="M733.3 557.2 L734.3 557.5 L735.5 557.9 L736.7 558.3 L737.9 558.7 L739.2 559.1 L740.6 559.5 L742 560 L743.5 560.3 L745.1 560.7 L746.7 561 L748.4 561.2 L750.2 561.4 L752.2 561.6 L754.5 561.7 L757 561.8 L759.7 561.9 L762.5 562 L765.3 562.1 L768.3 562.1 L771.2 562.2 L774.2 562.2 L777.1 562.2 L780 562.2 L782.8 562.2 L785.6 562.2 L788.5 562.2 L791.4 562.2 L794.4 562.2 L797.3 562.1 L800.3 562.1 L803.1 562 L805.9 561.9 L808.6 561.8 L811.1 561.7 L813.4 561.6 L815.4 561.4 L817.2 561.2 L818.9 561 L820.5 560.7 L822.1 560.3 L823.6 560 L825 559.5 L826.4 559.1 L827.7 558.7 L828.9 558.3 L830.1 557.9 L831.3 557.5 L832.3 557.2 L837.3 570.8 L836.7 571.1 L835.9 571.5 L835 572.1 L833.8 572.7 L832.4 573.4 L830.8 574.2 L829.1 575 L827.2 575.8 L825.2 576.6 L823 577.3 L820.6 578 L818.2 578.6 L815.7 579.1 L813 579.5 L810.3 579.9 L807.4 580.3 L804.4 580.6 L801.3 580.9 L798.2 581.2 L795.1 581.4 L791.9 581.5 L788.8 581.7 L785.8 581.7 L782.8 581.8 L779.8 581.7 L776.8 581.7 L773.7 581.5 L770.5 581.4 L767.4 581.2 L764.3 580.9 L761.2 580.6 L758.2 580.3 L755.3 579.9 L752.6 579.5 L749.9 579.1 L747.4 578.6 L745 578 L742.6 577.3 L740.4 576.6 L738.4 575.8 L736.5 575 L734.8 574.2 L733.2 573.4 L731.8 572.7 L730.6 572.1 L729.7 571.5 L728.9 571.1 L728.3 570.8 Z" fill="#4c4c4c"/>
<path d="M732.8 558.6 L733.8 558.9 L734.9 559.2 L736.1 559.6 L737.3 560.1 L738.6 560.5 L740 560.9 L741.5 561.4 L743 561.8 L744.7 562.1 L746.3 562.4 L748.1 562.7 L749.9 562.9 L752 563.1 L754.3 563.2 L756.9 563.3 L759.6 563.4 L762.4 563.5 L765.2 563.6 L768.2 563.6 L771.2 563.7 L774.1 563.7 L777.1 563.7 L780 563.7 L782.8 563.8 L785.6 563.7 L788.5 563.7 L791.5 563.7 L794.4 563.7 L797.4 563.6 L800.4 563.6 L803.2 563.5 L806 563.4 L808.7 563.3 L811.3 563.2 L813.6 563.1 L815.7 562.9 L817.5 562.7 L819.3 562.4 L820.9 562.1 L822.6 561.8 L824.1 561.4 L825.6 560.9 L827 560.5 L828.3 560.1 L829.5 559.6 L830.7 559.2 L831.8 558.9 L832.8 558.6 A5.8 5.8 0 0 1 836.8 569.4 L836.8 569.4 L836.1 569.7 L835.4 570.2 L834.4 570.7 L833.2 571.3 L831.8 572.1 L830.3 572.8 L828.6 573.6 L826.7 574.4 L824.8 575.1 L822.6 575.9 L820.3 576.5 L817.9 577.1 L815.5 577.6 L812.9 578 L810.1 578.4 L807.3 578.8 L804.3 579.1 L801.2 579.4 L798.1 579.7 L795 579.9 L791.9 580 L788.8 580.2 L785.8 580.2 L782.8 580.2 L779.8 580.2 L776.8 580.2 L773.7 580 L770.6 579.9 L767.5 579.7 L764.4 579.4 L761.3 579.1 L758.3 578.8 L755.5 578.4 L752.7 578 L750.1 577.6 L747.7 577.1 L745.3 576.5 L743 575.9 L740.8 575.1 L738.9 574.4 L737 573.6 L735.3 572.8 L733.8 572.1 L732.4 571.3 L731.2 570.7 L730.2 570.2 L729.5 569.7 L728.8 569.4 A5.8 5.8 0 0 1 732.8 558.6 Z" fill="#ffffff"/>
<path d="M725.7 575 L726.7 575.2 L727.8 575.4 L729 575.7 L730.2 576 L731.5 576.3 L732.9 576.6 L734.4 576.9 L736.1 577.2 L737.8 577.4 L739.6 577.6 L741.6 577.8 L743.8 577.9 L746.2 578.1 L749 578.2 L752 578.2 L755.2 578.3 L758.5 578.4 L762 578.5 L765.5 578.6 L769 578.6 L772.6 578.7 L776.1 578.7 L779.5 578.7 L782.8 578.8 L786.1 578.7 L789.5 578.7 L793 578.7 L796.6 578.6 L800.1 578.6 L803.6 578.5 L807.1 578.4 L810.4 578.3 L813.6 578.2 L816.6 578.2 L819.4 578.1 L821.8 577.9 L824 577.8 L826 577.6 L827.8 577.4 L829.5 577.2 L831.2 576.9 L832.7 576.6 L834.1 576.3 L835.4 576 L836.6 575.7 L837.8 575.4 L838.9 575.2 L839.9 575 L843.7 589 L843 589.3 L842.2 589.6 L841.2 590 L839.9 590.5 L838.5 591.1 L836.9 591.7 L835.2 592.3 L833.2 592.9 L831.1 593.5 L828.8 594.1 L826.4 594.6 L823.8 595.1 L821 595.5 L818.1 595.9 L815 596.3 L811.6 596.7 L808.2 597 L804.6 597.3 L800.9 597.6 L797.3 597.8 L793.6 598 L789.9 598.1 L786.3 598.2 L782.8 598.2 L779.3 598.2 L775.7 598.1 L772 598 L768.3 597.8 L764.7 597.6 L761 597.3 L757.4 597 L754 596.7 L750.6 596.3 L747.5 595.9 L744.6 595.5 L741.8 595.1 L739.2 594.6 L736.8 594.1 L734.5 593.5 L732.4 592.9 L730.4 592.3 L728.7 591.7 L727.1 591.1 L725.7 590.5 L724.4 590 L723.4 589.6 L722.6 589.3 L721.9 589 Z" fill="#4c4c4c"/>
<path d="M725.3 576.4 L726.2 576.6 L727.4 576.9 L728.5 577.1 L729.8 577.4 L731.1 577.7 L732.5 578 L734.1 578.3 L735.7 578.6 L737.5 578.9 L739.4 579.1 L741.4 579.3 L743.6 579.4 L746.1 579.5 L748.9 579.6 L751.9 579.7 L755.1 579.8 L758.4 579.9 L761.9 580 L765.4 580.1 L769 580.1 L772.5 580.2 L776.1 580.2 L779.5 580.2 L782.8 580.2 L786.1 580.2 L789.5 580.2 L793.1 580.2 L796.6 580.1 L800.2 580.1 L803.7 580 L807.2 579.9 L810.5 579.8 L813.7 579.7 L816.7 579.6 L819.5 579.5 L822 579.4 L824.2 579.3 L826.2 579.1 L828.1 578.9 L829.9 578.6 L831.5 578.3 L833.1 578 L834.5 577.7 L835.8 577.4 L837.1 577.1 L838.2 576.9 L839.4 576.6 L840.3 576.4 A5.8 5.8 0 0 1 843.3 587.6 L843.3 587.6 L842.5 587.8 L841.7 588.2 L840.7 588.6 L839.5 589.1 L838.1 589.6 L836.5 590.2 L834.8 590.8 L832.9 591.4 L830.8 592 L828.6 592.6 L826.2 593.1 L823.6 593.6 L820.9 594 L818 594.4 L814.8 594.8 L811.5 595.2 L808.1 595.5 L804.5 595.8 L800.9 596.1 L797.2 596.3 L793.5 596.5 L789.9 596.6 L786.3 596.7 L782.8 596.8 L779.3 596.7 L775.7 596.6 L772.1 596.5 L768.4 596.3 L764.7 596.1 L761.1 595.8 L757.5 595.5 L754.1 595.2 L750.8 594.8 L747.6 594.4 L744.7 594 L742 593.6 L739.4 593.1 L737 592.6 L734.8 592 L732.7 591.4 L730.8 590.8 L729.1 590.2 L727.5 589.6 L726.1 589.1 L724.9 588.6 L723.9 588.2 L723.1 587.8 L722.3 587.6 A5.8 5.8 0 0 1 725.3 576.4 Z" fill="#ffffff"/>
<path d="M725.1 593.6 L726.1 593.7 L727.2 593.9 L728.4 594.1 L729.6 594.3 L730.9 594.6 L732.3 594.8 L733.9 595 L735.5 595.2 L737.3 595.4 L739.2 595.6 L741.2 595.7 L743.4 595.8 L745.9 595.8 L748.7 595.9 L751.7 595.9 L754.9 595.9 L758.3 595.9 L761.7 595.9 L765.3 595.9 L768.9 595.9 L772.4 595.9 L776 595.9 L779.4 595.9 L782.8 596 L786.2 595.9 L789.6 595.9 L793.2 595.9 L796.7 595.9 L800.3 595.9 L803.9 595.9 L807.3 595.9 L810.7 595.9 L813.9 595.9 L816.9 595.9 L819.7 595.8 L822.2 595.8 L824.4 595.7 L826.4 595.6 L828.3 595.4 L830.1 595.2 L831.7 595 L833.3 594.8 L834.7 594.6 L836 594.3 L837.2 594.1 L838.4 593.9 L839.5 593.7 L840.5 593.6 L843.1 606.4 L842.4 606.7 L841.6 606.9 L840.5 607.3 L839.3 607.7 L837.9 608.1 L836.3 608.6 L834.6 609 L832.7 609.5 L830.6 610 L828.4 610.5 L826 610.9 L823.4 611.2 L820.7 611.5 L817.8 611.9 L814.7 612.1 L811.4 612.4 L807.9 612.6 L804.4 612.9 L800.7 613 L797.1 613.2 L793.4 613.3 L789.8 613.4 L786.2 613.4 L782.8 613.5 L779.4 613.4 L775.8 613.4 L772.2 613.3 L768.5 613.2 L764.9 613 L761.2 612.9 L757.7 612.6 L754.2 612.4 L750.9 612.1 L747.8 611.9 L744.9 611.5 L742.2 611.2 L739.6 610.9 L737.2 610.5 L735 610 L732.9 609.5 L731 609 L729.3 608.6 L727.7 608.1 L726.3 607.7 L725.1 607.3 L724 606.9 L723.2 606.7 L722.5 606.4 Z" fill="#4c4c4c"/>
<path d="M724.8 595 L725.8 595.2 L726.9 595.3 L728 595.6 L729.2 595.8 L730.6 596 L732 596.2 L733.6 596.5 L735.2 596.7 L737.1 596.9 L739 597.1 L741.1 597.2 L743.3 597.3 L745.8 597.3 L748.6 597.4 L751.6 597.4 L754.8 597.4 L758.2 597.4 L761.7 597.4 L765.2 597.4 L768.8 597.4 L772.4 597.4 L776 597.4 L779.4 597.4 L782.8 597.5 L786.2 597.4 L789.6 597.4 L793.2 597.4 L796.8 597.4 L800.4 597.4 L803.9 597.4 L807.4 597.4 L810.8 597.4 L814 597.4 L817 597.4 L819.8 597.3 L822.3 597.3 L824.5 597.2 L826.6 597.1 L828.5 596.9 L830.4 596.7 L832 596.5 L833.6 596.2 L835 596 L836.4 595.8 L837.6 595.6 L838.7 595.3 L839.8 595.2 L840.8 595 A5.1 5.1 0 0 1 842.8 605 L842.8 605 L842.1 605.2 L841.2 605.5 L840.2 605.8 L839 606.2 L837.6 606.6 L836 607.1 L834.3 607.6 L832.4 608.1 L830.4 608.5 L828.2 609 L825.8 609.4 L823.3 609.7 L820.6 610.1 L817.7 610.4 L814.6 610.6 L811.3 610.9 L807.9 611.1 L804.3 611.4 L800.7 611.5 L797 611.7 L793.4 611.8 L789.8 611.9 L786.2 611.9 L782.8 612 L779.4 611.9 L775.8 611.9 L772.2 611.8 L768.6 611.7 L764.9 611.5 L761.3 611.4 L757.7 611.1 L754.3 610.9 L751 610.6 L747.9 610.4 L745 610.1 L742.3 609.7 L739.8 609.4 L737.4 609 L735.2 608.5 L733.2 608.1 L731.3 607.6 L729.6 607.1 L728 606.6 L726.6 606.2 L725.4 605.8 L724.4 605.5 L723.5 605.2 L722.8 605 A5.1 5.1 0 0 1 724.8 595 Z" fill="#ffffff"/>
</g>
<rect x="645.8" y="618.4" width="275.4" height="1.2" fill="#4c4c4c"/>
<rect x="654.0" y="616.9" width="4.2" height="4.2" fill="#cecece"/>
<rect x="660.1" y="616.9" width="4.2" height="4.2" fill="#b3b3b3"/>
<rect x="666.2" y="616.9" width="4.2" height="4.2" fill="#c6c6c6"/>
<rect x="672.3" y="616.9" width="4.2" height="4.2" fill="#cbcbcb"/>
<rect x="678.4" y="616.9" width="4.2" height="4.2" fill="#b3b3b3"/>
<rect x="684.5" y="616.9" width="4.2" height="4.2" fill="#e4e4e4"/>
<rect x="690.6" y="616.9" width="4.2" height="4.2" fill="#e0e0e0"/>
<rect x="696.7" y="616.9" width="4.2" height="4.2" fill="#cdcdcd"/>
<rect x="702.8" y="616.9" width="4.2" height="4.2" fill="#e7e7e7"/>
<rect x="708.9" y="616.9" width="4.2" height="4.2" fill="#dcdcdc"/>
<rect x="715.0" y="616.9" width="4.2" height="4.2" fill="#cfcfcf"/>
<rect x="721.1" y="616.9" width="4.2" height="4.2" fill="#eaeaea"/>
<rect x="727.2" y="616.9" width="4.2" height="4.2" fill="#f3f3f3"/>
<rect x="733.3" y="616.9" width="4.2" height="4.2" fill="#f0f0f0"/>
<rect x="739.4" y="616.9" width="4.2" height="4.2" fill="#fcfcfc"/>
<rect x="745.5" y="616.9" width="4.2" height="4.2" fill="#f1f1f1"/>
<rect x="751.6" y="616.9" width="4.2" height="4.2" fill="#f2f2f2"/>
<rect x="757.7" y="616.9" width="4.2" height="4.2" fill="#fcfcfc"/>
<rect x="763.8" y="616.9" width="4.2" height="4.2" fill="#efefef"/>
<rect x="769.9" y="616.9" width="4.2" height="4.2" fill="#f4f4f4"/>
<rect x="776.0" y="616.9" width="4.2" height="4.2" fill="#fbfbfb"/>
<rect x="782.1" y="616.9" width="4.2" height="4.2" fill="#eeeeee"/>
<rect x="788.2" y="616.9" width="4.2" height="4.2" fill="#f7f7f7"/>
<rect x="794.3" y="616.9" width="4.2" height="4.2" fill="#fafafa"/>
<rect x="800.4" y="616.9" width="4.2" height="4.2" fill="#ededed"/>
<rect x="806.5" y="616.9" width="4.2" height="4.2" fill="#f9f9f9"/>
<rect x="812.6" y="616.9" width="4.2" height="4.2" fill="#f8f8f8"/>
<rect x="818.7" y="616.9" width="4.2" height="4.2" fill="#ededed"/>
<rect x="824.8" y="616.9" width="4.2" height="4.2" fill="#fbfbfb"/>
<rect x="830.9" y="616.9" width="4.2" height="4.2" fill="#f5f5f5"/>
<rect x="837.0" y="616.9" width="4.2" height="4.2" fill="#eeeeee"/>
<rect x="843.1" y="616.9" width="4.2" height="4.2" fill="#e9e9e9"/>
<rect x="849.2" y="616.9" width="4.2" height="4.2" fill="#d8d8d8"/>
<rect x="855.3" y="616.9" width="4.2" height="4.2" fill="#d1d1d1"/>
<rect x="861.4" y="616.9" width="4.2" height="4.2" fill="#ebebeb"/>
<rect x="867.5" y="616.9" width="4.2" height="4.2" fill="#d4d4d4"/>
<rect x="873.6" y="616.9" width="4.2" height="4.2" fill="#d5d5d5"/>
<rect x="879.7" y="616.9" width="4.2" height="4.2" fill="#eaeaea"/>
<rect x="885.8" y="616.9" width="4.2" height="4.2" fill="#b7b7b7"/>
<rect x="891.9" y="616.9" width="4.2" height="4.2" fill="#c0c0c0"/>
<rect x="898.0" y="616.9" width="4.2" height="4.2" fill="#cfcfcf"/>
<rect x="904.1" y="616.9" width="4.2" height="4.2" fill="#b4b4b4"/>
<rect x="910.2" y="616.9" width="4.2" height="4.2" fill="#c5c5c5"/>
</g></g>
<path d="M117 624.6 H386" stroke="#706050" stroke-width="3.2" stroke-dasharray="3.8 2.3" opacity="0.45"/>
<path d="M651.5 619 H915.5" stroke="#706050" stroke-width="3.2" stroke-dasharray="3.8 2.3" opacity="0.45"/>
<path d="M238 465.5 H266 V473 H238 Z M236 473 H268" stroke="#c8c0a0" stroke-width="1" fill="none" opacity="0.8"/>
<path d="M776 463.5 H790 V470 H776 Z M779 470.5 H787 M780 491 H786" stroke="#d8d080" stroke-width="1" fill="none" opacity="0.8"/>
<text x="136.4" y="487.5" fill="#fff" font-weight="bold" font-size="25" lengthAdjust="spacingAndGlyphs" textLength="65">Horn</text><text x="119.7" y="658.5" fill="#fff" font-weight="bold" font-size="25" lengthAdjust="spacingAndGlyphs" textLength="113">Metalens</text><text x="669.5" y="485" fill="#fff" font-weight="bold" font-size="25" lengthAdjust="spacingAndGlyphs" textLength="61">Horn</text><text x="664" y="670.5" fill="#fff" font-weight="bold" font-size="25" lengthAdjust="spacingAndGlyphs" textLength="112">Metalens</text>
<defs><linearGradient id="cbc" x1="0" y1="0" x2="0" y2="1"><stop offset="0" stop-color="rgb(250,60,90)"/><stop offset="0.105" stop-color="rgb(250,120,60)"/><stop offset="0.18" stop-color="rgb(250,180,50)"/><stop offset="0.255" stop-color="rgb(248,248,50)"/><stop offset="0.33" stop-color="rgb(200,250,60)"/><stop offset="0.405" stop-color="rgb(130,240,60)"/><stop offset="0.48" stop-color="rgb(70,235,80)"/><stop offset="0.55" stop-color="rgb(60,230,150)"/><stop offset="0.63" stop-color="rgb(60,230,200)"/><stop offset="0.7" stop-color="rgb(60,240,240)"/><stop offset="0.78" stop-color="rgb(60,200,240)"/><stop offset="0.85" stop-color="rgb(60,150,240)"/><stop offset="0.925" stop-color="rgb(70,110,240)"/><stop offset="1" stop-color="rgb(80,70,240)"/></linearGradient></defs>
<rect x="431.1" y="476.6" width="16.5" height="207.9" fill="url(#cbc)" stroke="#b0a0a0" stroke-width="0.6"/>
<text x="421.1" y="479.2" text-anchor="end" font-size="7.5" fill="#b0b0b0" font-family="Liberation Sans, sans-serif">134</text>
<line x1="422.1" y1="476.6" x2="430.1" y2="476.6" stroke="#8a8a8a" stroke-width="1"/>
<text x="421.1" y="500.9" text-anchor="end" font-size="7.5" fill="#b0b0b0" font-family="Liberation Sans, sans-serif">120</text>
<line x1="422.1" y1="498.3" x2="430.1" y2="498.3" stroke="#8a8a8a" stroke-width="1"/>
<text x="421.1" y="516.4" text-anchor="end" font-size="7.5" fill="#b0b0b0" font-family="Liberation Sans, sans-serif">110</text>
<line x1="422.1" y1="513.8" x2="430.1" y2="513.8" stroke="#8a8a8a" stroke-width="1"/>
<text x="421.1" y="532.0" text-anchor="end" font-size="7.5" fill="#b0b0b0" font-family="Liberation Sans, sans-serif">100</text>
<line x1="422.1" y1="529.4" x2="430.1" y2="529.4" stroke="#8a8a8a" stroke-width="1"/>
<text x="421.1" y="547.5" text-anchor="end" font-size="7.5" fill="#b0b0b0" font-family="Liberation Sans, sans-serif">90</text>
<line x1="422.1" y1="544.9" x2="430.1" y2="544.9" stroke="#8a8a8a" stroke-width="1"/>
<text x="421.1" y="563.0" text-anchor="end" font-size="7.5" fill="#b0b0b0" font-family="Liberation Sans, sans-serif">80</text>
<line x1="422.1" y1="560.4" x2="430.1" y2="560.4" stroke="#8a8a8a" stroke-width="1"/>
<text x="421.1" y="578.5" text-anchor="end" font-size="7.5" fill="#b0b0b0" font-family="Liberation Sans, sans-serif">70</text>
<line x1="422.1" y1="575.9" x2="430.1" y2="575.9" stroke="#8a8a8a" stroke-width="1"/>
<text x="421.1" y="594.0" text-anchor="end" font-size="7.5" fill="#b0b0b0" font-family="Liberation Sans, sans-serif">60</text>
<line x1="422.1" y1="591.4" x2="430.1" y2="591.4" stroke="#8a8a8a" stroke-width="1"/>
<text x="421.1" y="609.5" text-anchor="end" font-size="7.5" fill="#b0b0b0" font-family="Liberation Sans, sans-serif">50</text>
<line x1="422.1" y1="606.9" x2="430.1" y2="606.9" stroke="#8a8a8a" stroke-width="1"/>
<text x="421.1" y="625.0" text-anchor="end" font-size="7.5" fill="#b0b0b0" font-family="Liberation Sans, sans-serif">40</text>
<line x1="422.1" y1="622.4" x2="430.1" y2="622.4" stroke="#8a8a8a" stroke-width="1"/>
<text x="421.1" y="640.6" text-anchor="end" font-size="7.5" fill="#b0b0b0" font-family="Liberation Sans, sans-serif">30</text>
<line x1="422.1" y1="638.0" x2="430.1" y2="638.0" stroke="#8a8a8a" stroke-width="1"/>
<text x="421.1" y="656.1" text-anchor="end" font-size="7.5" fill="#b0b0b0" font-family="Liberation Sans, sans-serif">20</text>
<line x1="422.1" y1="653.5" x2="430.1" y2="653.5" stroke="#8a8a8a" stroke-width="1"/>
<text x="421.1" y="671.6" text-anchor="end" font-size="7.5" fill="#b0b0b0" font-family="Liberation Sans, sans-serif">10</text>
<line x1="422.1" y1="669.0" x2="430.1" y2="669.0" stroke="#8a8a8a" stroke-width="1"/>
<text x="421.1" y="687.1" text-anchor="end" font-size="7.5" fill="#b0b0b0" font-family="Liberation Sans, sans-serif">0</text>
<line x1="422.1" y1="684.5" x2="430.1" y2="684.5" stroke="#8a8a8a" stroke-width="1"/>
<text x="400.1" y="466.6" font-size="7.5" fill="#a0a0a0" font-family="Liberation Sans, sans-serif">V/m</text>
<path d="M426.6 474.1 l2.6 4.5 h-5.2z" fill="#202020"/>
<rect x="424.1" y="681.5" width="5" height="5" rx="1.5" fill="#303030"/>
<defs><linearGradient id="cbd" x1="0" y1="0" x2="0" y2="1"><stop offset="0" stop-color="rgb(250,60,90)"/><stop offset="0.105" stop-color="rgb(250,120,60)"/><stop offset="0.18" stop-color="rgb(250,180,50)"/><stop offset="0.255" stop-color="rgb(248,248,50)"/><stop offset="0.33" stop-color="rgb(200,250,60)"/><stop offset="0.405" stop-color="rgb(130,240,60)"/><stop offset="0.48" stop-color="rgb(70,235,80)"/><stop offset="0.55" stop-color="rgb(60,230,150)"/><stop offset="0.63" stop-color="rgb(60,230,200)"/><stop offset="0.7" stop-color="rgb(60,240,240)"/><stop offset="0.78" stop-color="rgb(60,200,240)"/><stop offset="0.85" stop-color="rgb(60,150,240)"/><stop offset="0.925" stop-color="rgb(70,110,240)"/><stop offset="1" stop-color="rgb(80,70,240)"/></linearGradient></defs>
<rect x="960.2" y="474.4" width="15.8" height="205.8" fill="url(#cbd)" stroke="#b0a0a0" stroke-width="0.6"/>
<text x="950.2" y="477.0" text-anchor="end" font-size="7.5" fill="#b0b0b0" font-family="Liberation Sans, sans-serif">134</text>
<line x1="951.2" y1="474.4" x2="959.2" y2="474.4" stroke="#8a8a8a" stroke-width="1"/>
<text x="950.2" y="498.5" text-anchor="end" font-size="7.5" fill="#b0b0b0" font-family="Liberation Sans, sans-serif">120</text>
<line x1="951.2" y1="495.9" x2="959.2" y2="495.9" stroke="#8a8a8a" stroke-width="1"/>
<text x="950.2" y="513.9" text-anchor="end" font-size="7.5" fill="#b0b0b0" font-family="Liberation Sans, sans-serif">110</text>
<line x1="951.2" y1="511.3" x2="959.2" y2="511.3" stroke="#8a8a8a" stroke-width="1"/>
<text x="950.2" y="529.2" text-anchor="end" font-size="7.5" fill="#b0b0b0" font-family="Liberation Sans, sans-serif">100</text>
<line x1="951.2" y1="526.6" x2="959.2" y2="526.6" stroke="#8a8a8a" stroke-width="1"/>
<text x="950.2" y="544.6" text-anchor="end" font-size="7.5" fill="#b0b0b0" font-family="Liberation Sans, sans-serif">90</text>
<line x1="951.2" y1="542.0" x2="959.2" y2="542.0" stroke="#8a8a8a" stroke-width="1"/>
<text x="950.2" y="559.9" text-anchor="end" font-size="7.5" fill="#b0b0b0" font-family="Liberation Sans, sans-serif">80</text>
<line x1="951.2" y1="557.3" x2="959.2" y2="557.3" stroke="#8a8a8a" stroke-width="1"/>
<text x="950.2" y="575.3" text-anchor="end" font-size="7.5" fill="#b0b0b0" font-family="Liberation Sans, sans-serif">70</text>
<line x1="951.2" y1="572.7" x2="959.2" y2="572.7" stroke="#8a8a8a" stroke-width="1"/>
<text x="950.2" y="590.7" text-anchor="end" font-size="7.5" fill="#b0b0b0" font-family="Liberation Sans, sans-serif">60</text>
<line x1="951.2" y1="588.1" x2="959.2" y2="588.1" stroke="#8a8a8a" stroke-width="1"/>
<text x="950.2" y="606.0" text-anchor="end" font-size="7.5" fill="#b0b0b0" font-family="Liberation Sans, sans-serif">50</text>
<line x1="951.2" y1="603.4" x2="959.2" y2="603.4" stroke="#8a8a8a" stroke-width="1"/>
<text x="950.2" y="621.4" text-anchor="end" font-size="7.5" fill="#b0b0b0" font-family="Liberation Sans, sans-serif">40</text>
<line x1="951.2" y1="618.8" x2="959.2" y2="618.8" stroke="#8a8a8a" stroke-width="1"/>
<text x="950.2" y="636.7" text-anchor="end" font-size="7.5" fill="#b0b0b0" font-family="Liberation Sans, sans-serif">30</text>
<line x1="951.2" y1="634.1" x2="959.2" y2="634.1" stroke="#8a8a8a" stroke-width="1"/>
<text x="950.2" y="652.1" text-anchor="end" font-size="7.5" fill="#b0b0b0" font-family="Liberation Sans, sans-serif">20</text>
<line x1="951.2" y1="649.5" x2="959.2" y2="649.5" stroke="#8a8a8a" stroke-width="1"/>
<text x="950.2" y="667.4" text-anchor="end" font-size="7.5" fill="#b0b0b0" font-family="Liberation Sans, sans-serif">10</text>
<line x1="951.2" y1="664.8" x2="959.2" y2="664.8" stroke="#8a8a8a" stroke-width="1"/>
<text x="950.2" y="682.8" text-anchor="end" font-size="7.5" fill="#b0b0b0" font-family="Liberation Sans, sans-serif">0</text>
<line x1="951.2" y1="680.2" x2="959.2" y2="680.2" stroke="#8a8a8a" stroke-width="1"/>
<text x="929.2" y="464.4" font-size="7.5" fill="#a0a0a0" font-family="Liberation Sans, sans-serif">V/m</text>
<path d="M955.7 471.9 l2.6 4.5 h-5.2z" fill="#202020"/>
<rect x="953.2" y="677.2" width="5" height="5" rx="1.5" fill="#303030"/>
<g><path d="M445.2 878.5 V857" stroke="#4a3fd8" stroke-width="4.5"/><path d="M445.2 850.5 l3.8 9 h-7.6z" fill="#4a3fd8"/><circle cx="445.2" cy="844.5" r="1.6" fill="#5050c0"/><path d="M441.5 882.8 H416" stroke="#d03838" stroke-width="4.2"/><path d="M409.5 882.8 l9 -3.6 v7.2z" fill="#c83030"/><rect x="399.5" y="881" width="3.6" height="3.6" fill="#e05050"/><path d="M443.5 880.5 l1.8 6 l1.8 -6z" fill="#60b060"/></g>
<g><path d="M977.3 876 V854" stroke="#4a3fd8" stroke-width="4.8"/><path d="M977.3 844 l4.5 10.5 h-9z" fill="#4a3fd8"/><rect x="974.8" y="835.5" width="5" height="3" fill="#5050c0"/><path d="M975 876 H950" stroke="#30c030" stroke-width="4.5"/><path d="M941.8 876 l9.5 -4.2 v8.4z" fill="#30c030"/><circle cx="977.5" cy="876" r="3.2" fill="#d03030"/><text x="933.8" y="880" text-anchor="middle" font-size="9" fill="#70a080" font-family="Liberation Sans, sans-serif">y</text></g>
<text x="246.6" y="436" text-anchor="middle" font-size="44.5">(a)</text>
<text x="786.4" y="436" text-anchor="middle" font-size="44.5">(b)</text>
<text x="246.6" y="948.7" text-anchor="middle" font-size="44.5">(c)</text>
<text x="786.4" y="948.7" text-anchor="middle" font-size="44.5">(d)</text>
</svg></body></html>
